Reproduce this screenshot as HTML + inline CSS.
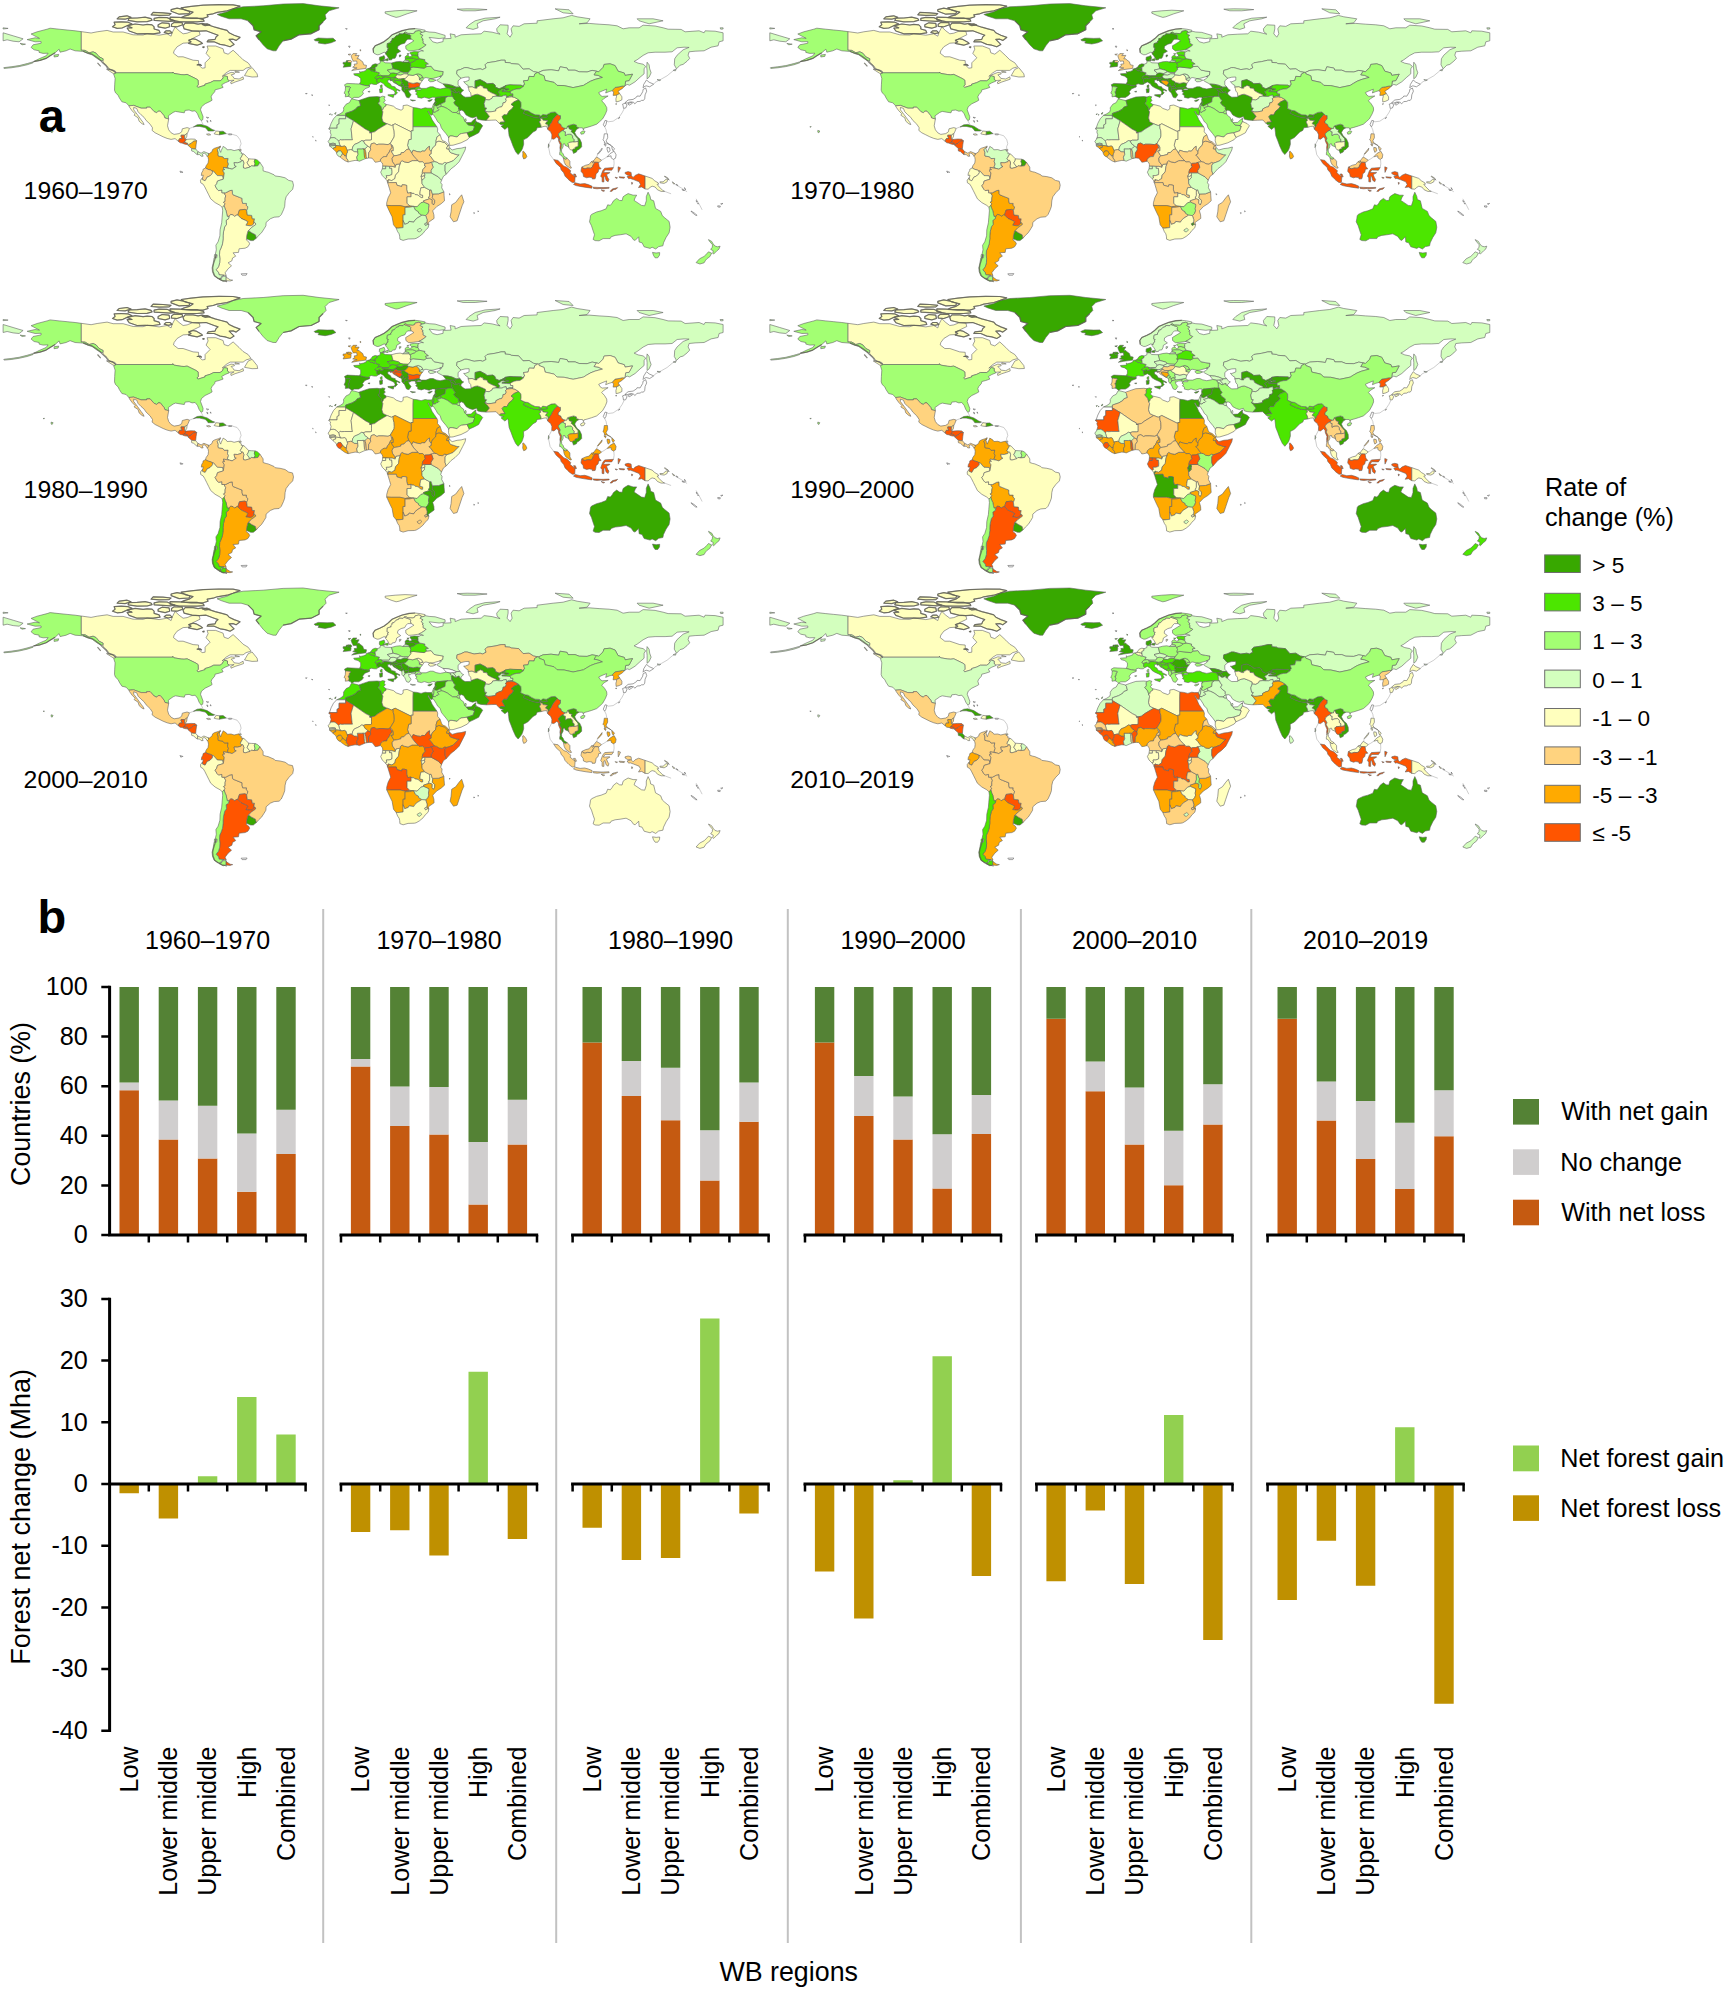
<!DOCTYPE html>
<html><head><meta charset="utf-8"><title>Forest change</title>
<style>
html,body{margin:0;padding:0;background:#fff}
svg{display:block}
text{font-family:"Liberation Sans",Arial,sans-serif;fill:#000}
.m use{stroke:#626262;stroke-width:.6;stroke-linejoin:round}
.m use.arc{fill:none;stroke:#9c9c9c;stroke-width:.5}
.m use.dk{fill:none;stroke:#5c5c50;stroke-width:1.2;stroke-opacity:.75}
</style></head><body>
<svg width="1725" height="1991" viewBox="0 0 1725 1991">
<defs>
<path id="CAN" d="M78,-139.2 88,-137.8 94,-139 104,-140.4 110,-138.8 120,-138.8 130,-136 140,-135.8 144,-137.2 156,-135.6 164,-137 168,-134.6 169,-138 172,-143.8 176,-140 180,-137 184,-137.6 189,-139.6 196,-139.6 197,-136 190,-132.6 186,-130.6 186,-128 180,-127.6 174,-124 171,-120 170.4,-117.6 175,-114 180,-114 190,-110.6 195.4,-110.2 195.6,-105.8 199,-102.6 202,-103 202,-108 207,-113 203,-117.4 205,-121.6 204,-124.8 212.6,-124.8 220,-122 221,-118 225,-116.6 230,-120.6 236,-115 240,-111 245,-108 248,-104 243,-102.6 240,-100.4 227,-100.4 223,-98 219,-94.4 222,-96 228,-98.4 231,-98 231.4,-96.8 228,-96 230,-94 231,-92.4 236,-91.8 240,-94 240.4,-91.6 237,-90.4 232,-88.8 228,-87 227.6,-88.8 231,-90.6 228,-90.4 226,-90.2 224.4,-91.4 224.4,-94.2 221.6,-94.9 220,-93.4 219.4,-91.8 217,-90 210.6,-90 207,-88.2 201.8,-86.6 202,-85.6 195,-83.4 193.8,-84.4 195.2,-86 195,-90.6 193,-92 191,-93 184,-96.4 181,-96 178,-96.2 170.8,-97.4 169.7,-98.8 169.7,-98 113.4,-98 112,-100 106,-102 104,-105 100,-108.6 99.8,-110 100,-112 96,-114 93,-117.6 90,-119 86,-118 82,-120.4 78,-120.6ZM109.4,-144 114,-142.4 119,-142.8 125,-145.6 129,-146.8 125,-148.6 118,-149 111,-148.6 112,-146ZM124,-142.8 126,-139.8 134,-137 142,-137.2 150,-137 157,-138 156,-140.4 151,-141.8 151,-144 149,-146 144,-146.4 140,-145.8 132,-146.8 124,-145 129,-143ZM155,-144 162,-142.6 166.6,-144 166,-147.4 159,-148 155,-146ZM168.4,-144.4 174,-144 179.6,-146 179,-148.2 171,-148.4 168.4,-146.6ZM161,-138.4 165,-137.2 169,-138 167,-140 163,-140ZM199,-147.4 206,-145.6 212,-143.6 218,-142 224,-140.4 226,-138 231,-135.6 237,-133.4 233,-130.4 230,-131.6 226,-131.4 231,-126.4 227,-124 222,-125.6 217,-126.4 211,-129 204,-129 205,-130.6 212,-131.4 213,-134 215,-135.6 211,-137 203,-140 196,-139.6 189,-140 181,-142 180,-145 182,-147.6 190,-147.6 195,-146.6ZM185.6,-130.6 190,-132 193,-131.4 198,-128.6 199.4,-127.4 194,-125.6 189,-126.6 185.4,-127.4 188,-129ZM167,-151 176,-149.2 184,-149 194,-149 201,-149.6 200.4,-151.2 194,-152.8 182,-153 176,-153.4 167,-153.6ZM151,-150.4 160,-149.8 167,-149.4 172,-150 168,-151.4 164,-153.2 156,-153.4 151,-152.4ZM125,-150.4 134,-149 144,-149.2 149,-150.6 148,-152.2 142,-153.6 134,-152.8 126,-152.6ZM114,-152 122,-151.6 128,-153.4 124,-155 116,-154ZM148,-156 156,-155.4 166,-155.6 168,-157.2 160,-158 150,-158.4ZM168,-159.6 176,-156.6 186,-157.2 187,-159.2 182,-161 174,-162.6 168,-161.2ZM178,-153.2 188,-152.4 200,-152.4 205,-154 204,-156 210,-157 214,-158.4 224,-160 230,-162 237,-164.6 230,-166 216,-166.2 200,-165.6 188,-164.4 178,-163 182,-160.6 190,-158.6 186,-156 181,-154.6ZM199,-146.4 204,-147 207,-145.8 202,-145.2ZM201,-124 199.6,-123.6 200.8,-123.2ZM194,-106 196,-106 198.4,-105.4 197,-106.4ZM241.4,-95.2 245,-101.4 249,-103.2 254,-97 254.6,-94 249,-93.8ZM103.4,-101.6 110,-100.6 113.4,-96.8 110,-97.4ZM232,-99.8 236.4,-98.6 232,-98.4Z"/>
<path id="USA" d="M113.4,-98 110.6,-96.8 112,-92.4 111.6,-86 111.4,-80.6 112.4,-78 115,-75.6 116.2,-73 118.8,-69 123,-68 125.8,-65 130.6,-65.4 138,-62.6 143.6,-62.6 143.6,-63.6 147,-63.6 151,-59.2 153.6,-58 155,-59.6 157.2,-59.6 161,-55 161.8,-52.8 165.6,-51.8 165.2,-55 170,-58.4 172.4,-59.4 177,-58.6 181.2,-58 182,-60.4 186,-60.8 189,-59.6 192,-60 194.4,-57 196,-53 198,-50.2 199.6,-51 200,-54 197.4,-61 198.4,-64 202,-67 207,-69.4 209,-70.6 208,-74 209,-76 211.6,-79 212,-81 216,-82 220,-83.4 218.6,-86 222,-88 226,-89.6 226,-90.2 224.4,-91.4 224.4,-94.2 221.6,-94.9 220,-93.4 219.4,-91.8 217,-90 210.6,-90 207,-88.2 201.8,-86.6 202,-85.6 195,-83.4 193.8,-84.4 195.2,-86 195,-90.6 193,-92 191,-93 184,-96.4 181,-96 178,-96.2 170.8,-97.4 169.7,-98.8 169.7,-98ZM78,-139.2 78,-120.6 82,-120.4 86,-118 90,-119 93,-117.6 96,-114 100,-112 99.8,-110 97,-110.4 93,-113 89,-116 85,-117.2 80,-119.4 72,-120 67,-121.8 63,-120 57,-118.6 56,-121.6 52,-118 47,-115 43,-112.4 37,-110.4 30.4,-109.2 36,-112 43,-115 45,-117.6 40,-117.4 36,-118.4 36,-120 31,-121 28,-123.4 30,-126 38,-127.6 38,-129.2 32,-129 24,-131.2 32,-133 36.4,-132.4 33,-134.2 28,-136.8 34,-139 44,-141.6 47,-142.6 56,-141.6 64,-140.8 72,-140ZM30,-108.8 24,-107.2 16,-105.2 8,-104 1,-103.2 1,-102.4 8,-103 16,-104.2 24,-106 30,-108ZM51,-115.8 55.6,-116.4 55,-114.4 51,-113.8ZM17,-127.4 22.4,-126.6 19,-126ZM40,-44 41.4,-44.2 41,-43.6ZM48,-40.4 50,-39.8 49,-38 48,-38.6Z"/>
<path id="MEX" d="M125.8,-65 130.6,-65.4 138,-62.6 143.6,-62.6 143.6,-63.6 147,-63.6 151,-59.2 153.6,-58 155,-59.6 157.2,-59.6 161,-55 161.8,-52.8 165.6,-51.8 164.4,-45 165.6,-41 168,-38 171,-36.4 176,-37.2 178.6,-39 179.2,-42 184,-43.2 186.4,-42.4 185,-39 184,-37 183.4,-37 181.6,-35.6 178,-35.6 178,-34.4 179.2,-32.2 176.6,-32.2 175.6,-30.6 175.6,-29.2 172,-32.2 168,-31.4 164,-32.4 160,-34 156,-36 152,-38 149,-40.4 149.4,-43 147,-46.6 143,-50.4 141,-53.4 138,-56 135,-59 133.6,-62.4 130.6,-63.4 130.6,-61 134.4,-56 138,-51 140,-48.4 141,-46.2 139,-47 136,-49.6 135,-53 131,-55.6 132,-57 129,-60 126.4,-63.6Z"/>
<path id="GTM" d="M175.6,-29.2 175.6,-30.6 176.6,-32.2 179.2,-32.2 178,-34.4 178,-35.6 181.6,-35.6 181.6,-31.8 183.4,-31.4 181.6,-28.8 179.8,-27.6 177,-28Z"/>
<path id="BLZ" d="M181.6,-35.6 183.4,-37 184,-37 183.6,-34 182.2,-31.8 181.6,-31.8Z"/>
<path id="SLV" d="M179.8,-27.6 181.4,-28.8 183,-28 184.4,-27.8 184.6,-26.4 183,-26.4 180.4,-27Z"/>
<path id="HND" d="M181.6,-28.8 183.4,-31.4 188,-31.8 192,-31.6 193.6,-30 190.4,-29.6 188.4,-27.6 186.4,-26.6 185.2,-25.8 184.6,-26.4 184.4,-27.8 183,-28 181.4,-28.8Z"/>
<path id="NIC" d="M185.2,-25.8 186.4,-26.6 188.4,-27.6 190.4,-29.6 193.6,-30 193,-26 192.6,-22 191,-21.8 188.6,-22.2 187,-23.6 184.6,-25.8Z"/>
<path id="CRI" d="M188.6,-22.2 191,-21.8 192.6,-21.8 194.8,-19.2 194.2,-16.2 193,-17 190.6,-19.2 188.6,-19.8 188.4,-21.8Z"/>
<path id="PAN" d="M194.2,-16.2 194.8,-19.2 198,-17.6 200.8,-19.2 205.2,-17.4 205.6,-15.8 204.2,-14.4 203.2,-16.2 201,-17.8 199.2,-16.6 200,-14.6 198,-14.6 196.6,-16.2Z"/>
<path id="CUB" d="M190.2,-43.8 194,-46 198,-46.4 204,-44.6 209,-41.4 211.6,-40.4 210,-39.8 205,-39.8 204,-41.4 202,-43.2 196.4,-44.4 193,-44.4Z"/>
<path id="HTI" d="M211,-37 213.2,-39.8 216.6,-39.4 216.4,-36 213,-36.4Z"/>
<path id="DOM" d="M216.6,-39.4 220,-39.6 223.2,-37.2 220,-36.6 216.4,-36Z"/>
<path id="JAM" d="M203.4,-36.6 206,-37 207.6,-36 205,-35.6Z"/>
<path id="PRI" d="M225.6,-37 228.8,-36.8 228.4,-36 225.6,-36Z"/>
<path id="TTO" d="M236.6,-21.4 238,-21.4 238,-20.2 236.4,-20.2Z"/>
<path id="BHS" d="M203.2,-53.6 205.6,-53.2 204.4,-52.6ZM203.6,-50.2 204.6,-48.4 204.6,-50ZM207.4,-50.6 208,-49.2 207.2,-49.6Z"/>
<path id="COL" d="M205.2,-17.4 206.2,-17.2 208.8,-19 209.6,-21.4 211.6,-22.6 215.4,-23.8 217.4,-24.8 217.2,-23.6 215,-22.2 214.2,-21 215.2,-18.2 215,-16.6 215.2,-14.8 219.8,-14 221.2,-12.2 225,-12.4 224.4,-9 225.4,-6.8 224.2,-3.6 226.2,-2.4 225.8,-2.4 220.4,-3.4 220.4,-2.2 221.8,-1.2 220,-1.2 220,0.4 221.2,2.2 220.2,8.4 219.4,5 214.2,4.8 210.4,0.4 209.2,0.2 207.4,-0.8 205,-1.4 202.4,-2.8 203,-5 205,-7.8 205.4,-11 205,-13.4 204.2,-14.4 205.6,-15.8Z"/>
<path id="VEN" d="M217.2,-23.6 216.2,-22.4 216.8,-20 217.6,-18.4 218.2,-20.4 219.6,-23.2 220,-24.4 223.2,-22.4 224,-21 228,-21.2 231,-20.2 236,-21.4 236.2,-20 238.4,-18.6 238,-17.2 240,-17 237.2,-12 238.6,-10.4 238,-9 234.4,-8 231,-8.2 231.6,-5 233.2,-4.4 229,-1.6 226.2,-2.4 224.2,-3.6 225.4,-6.8 224.4,-9 225,-12.4 221.2,-12.2 219.8,-14 215.2,-14.8 215,-16.6 215.2,-18.2 214.2,-21 215,-22.2Z"/>
<path id="GUY" d="M240,-17 241.8,-16 243,-14.6 245.6,-12 245.4,-10.4 244,-8 244.6,-7 247,-3.8 242.2,-2.4 240.4,-2.8 240.2,-5 240.8,-7.8 239.8,-10.4 238.6,-10.4 237.2,-12Z"/>
<path id="SUR" d="M245.6,-12 248.2,-11.8 252,-11.6 251.2,-9.4 252,-7 251,-4.6 248.2,-5 247,-3.8 244.6,-7 244,-8 245.4,-10.4Z"/>
<path id="GUF" d="M252,-11.6 254.2,-10.8 256.8,-8.4 254.8,-5 251,-4.6 252,-7 251.2,-9.4Z"/>
<path id="ECU" d="M202.4,-2.8 205,-1.4 207.4,-0.8 209.2,0.2 209.6,1.8 208.8,3.2 206.8,5.2 204,6.4 203.2,8 202,10 199.2,8.8 199.6,6.8 200.2,4.4 198.2,4.6 198.6,2 199.8,0 200,-1.6Z"/>
<path id="PER" d="M199.4,6.8 199.2,8.8 202,10 203.2,8 204,6.4 206.8,5.2 208.8,3.2 209.6,1.8 209.2,0.2 210.4,0.4 214.2,4.8 219.4,5 220.2,8.4 214.4,10.2 213.6,13 212,15 214,18.4 215.4,19.8 218.8,19.2 218.8,22 220.8,22 222.6,25 222,27.4 222,30.6 220.4,31.4 222,33 221,34.8 219.2,36.6 217,34.6 212,31.8 207.6,28 205.6,24 203.6,20 201.6,16 200,13.4 197.6,12 197.4,9.4Z"/>
<path id="BOL" d="M220.8,22 222.6,25 222,27.4 222,30.6 220.4,31.4 222,33 221,34.8 222,38 223,40 223.6,43 224.2,45.6 226,45.6 227.6,43.6 230,44.2 231.4,45.6 234,44 234.8,44.4 235.4,42 236.4,39.2 241.8,38.6 243.6,39.6 244.4,38 244.8,36 243.2,34.6 243.4,32.6 239.6,32.6 239,30.2 239,27.6 236,26.4 233,25.2 230,24 229.4,23 229.2,19.4 226.8,19.8 222.6,22Z"/>
<path id="PRY" d="M234.8,44.4 235.4,42 236.4,39.2 241.8,38.6 243.6,39.6 244.2,44.2 248.6,44.6 249.2,48 251.4,48 250.8,51.2 250.6,53.2 248.6,54.8 247,55 242.8,54.4 244.8,51 242.4,49.6 238,47.6Z"/>
<path id="URY" d="M244.8,60.4 246.2,60.2 248.2,61.8 252.4,64 253.2,67.4 250.2,69.8 247.6,69.8 243.4,68 243.6,65Z"/>
<path id="ARG" d="M226,45.6 227.6,43.6 230,44.2 231.4,45.6 234,44 234.8,44.4 238,47.6 242.4,49.6 244.8,51 242.8,54.4 247,55 248.6,54.8 250.6,53.2 250.8,51.2 252.4,52.4 252.6,53.8 248.4,56.8 244.8,60.4 243.6,65 243.4,68 243.2,69.2 245.6,71 246.6,73 244.8,76 242,77.4 236,78 235.4,81.6 230,82 232.6,85.4 229.4,87.2 228.8,90 225,92 228.4,95 225,98 222,102 223.2,104.8 221,104.4 216,104 215.4,101.6 213,99 215.4,96 216.6,92 216.8,88 216.4,84 216.6,80 218,77 219.4,73 220,68 220,65 220.4,61 221.6,56 223.4,53.6 223,49.6 225.4,48ZM222.8,105.4 223.4,106.6 227,109 229.6,109.4 227,110.2 222.8,109.8Z"/>
<path id="CHL" d="M219.2,36.6 219.6,40 219,47 218.6,52 217,59 216.8,65 215,71 212.8,74.4 213.2,79 212.2,83.6 214,84 213.6,87 211,87 210,93 209,97 209.4,101 211,105 215,107.6 218,107.6 218.2,105.8 221,104.4 216,104 215.4,101.6 213,99 215.4,96 216.6,92 216.8,88 216.4,84 216.6,80 218,77 219.4,73 220,68 220,65 220.4,61 221.6,56 223.4,53.6 223,49.6 225.4,48 226,45.6 224.2,45.6 223.6,43 223,40 222,38 221,34.8ZM222.8,105.4 219.4,105.6 218.4,107.6 216,108.4 220,110.6 222.8,109.8ZM211.4,83.8 213,84 212.8,86.6 211.2,86.4Z"/>
<path id="BRA" d="M256.8,-8.4 260,-3.6 260,0 263,1 265,1.4 271,4 272,5.2 277,5.8 282,7 285.6,9.6 289.4,10.4 290.4,14.4 289.6,18.4 286,22 283,26 282,30 281.6,35.6 280.4,39 278.2,43.8 276,46 271,46.4 267.2,48 263,51.6 262.8,55 261,58 258.4,62 255.6,64.6 253.2,67.4 252.4,64 248.2,61.8 246.2,60.2 244.8,60.4 248.4,56.8 252.6,53.8 252.4,52.4 250.8,51.2 251.4,48 249.2,48 248.6,44.6 244.2,44.2 243.6,39.6 244.4,38 244.8,36 243.2,34.6 243.4,32.6 239.6,32.6 239,30.2 239,27.6 236,26.4 233,25.2 230,24 229.4,23 229.2,19.4 226.8,19.8 222.6,22 220.8,22 218.8,22 218.8,19.2 215.4,19.8 214,18.4 212,15 213.6,13 214.4,10.2 220.2,8.4 221.2,2.2 220,0.4 220,-1.2 221.8,-1.2 220.4,-2.2 220.4,-3.4 225.8,-2.4 226.2,-2.4 229,-1.6 233.2,-4.4 231.6,-5 231,-8.2 234.4,-8 238,-9 238.6,-10.4 239.8,-10.4 240.8,-7.8 240.2,-5 240.4,-2.8 242.2,-2.4 247,-3.8 248.2,-5 251,-4.6 254.8,-5Z"/>
<path id="FLK" d="M238,103 244,102.8 243,104.4 239,104.4Z"/>
<path id="GRL" d="M214,-156.4 224,-159 230,-162 240,-164 260,-165 280,-166.8 300,-167.2 316,-165 336,-163 326,-160 322,-156 323,-152 320,-149 316,-145 316,-141 308,-137 296,-136 288,-131.6 280,-130 276,-125 273,-120 270,-120 264,-122 260,-126 256,-131 253,-135 258,-139 251,-141 250,-145 245,-150 238,-152 226,-152 218,-154.6Z"/>
<path id="ISL" d="M311,-131 315,-132.8 324,-132.4 330,-132.6 332.8,-130 328,-128 322,-126.8 315,-127.8 316,-129.6 312,-130Z"/>
<path id="NOR" d="M371,-117.4 370.6,-118 370,-122 372,-125 377,-127 381,-129 385,-132 389,-136 394,-138 399,-140 406,-141.6 412,-142.2 417,-141.6 422,-140.6 421.8,-139.6 421.6,-139 417.9,-138.1 418,-139.4 415.8,-140.2 412,-139.4 411.6,-138 409.8,-137.2 407,-137.4 404.8,-137.4 402.6,-138.6 401.1,-138.1 400,-136.8 396,-137 395.8,-136 393,-135 391,-132.6 389,-132.2 389,-130.6 387.4,-129.2 388.2,-128.4 384.2,-127.2 384,-123.4 385.6,-122.8 384.6,-122 385,-120.4 383.6,-119.6 383.4,-117.8 382.2,-118.2 381,-118.6 379,-117.6 376,-116.2 374,-116ZM382,-159 392,-160 402,-160.6 414,-160 404,-157 396,-154 393,-153.4 388,-155 382,-157.6Z"/>
<path id="SWE" d="M382.2,-118.2 382.4,-116.8 384,-115 385.6,-112.4 386,-110.8 388.6,-111 389.4,-112.4 392,-112.6 393.2,-115 393.6,-117.2 397.6,-119.6 394.4,-122 394.8,-124.6 398,-126.6 401.6,-127.6 403,-130 404.6,-131.6 408.2,-131.6 407.4,-133.6 407.8,-135 407,-136 403.6,-137 401.1,-138.1 400,-136.8 396,-137 395.8,-136 393,-135 391,-132.6 389,-132.2 389,-130.6 387.4,-129.2 388.2,-128.4 384.2,-127.2 384,-123.4 385.6,-122.8 384.6,-122 385,-120.4 383.6,-119.6 383.4,-117.8ZM396.2,-115.8 398,-115.8 397.4,-114.4 396.4,-113.8Z"/>
<path id="FIN" d="M408.2,-131.6 410.8,-130 409.2,-129 405,-126.4 402.6,-125 402.8,-122 405.6,-119.8 410,-120.2 415.6,-121 418.6,-122.6 422.4,-125.2 423,-126 420,-127.6 420.2,-129.6 419.2,-131.2 420.2,-131.4 418.2,-133.8 420,-135.4 417,-137 417.9,-138.1 418,-139.4 415.8,-140.2 412,-139.4 411.6,-138 409.8,-137.2 407,-137.4 404.8,-137.4 402.6,-138.6 401.1,-138.1 403.6,-137 407,-136 407.8,-135 407.4,-133.6Z"/>
<path id="DNK" d="M376.2,-111 377.2,-109.8 379.8,-109.6 381.8,-112.8 381,-115.2 379,-114.4 376.4,-113.6ZM382,-111.4 385,-112.2 385,-110 382.4,-110.2ZM379.6,-111 381.6,-111 381.4,-110 380,-110.2Z"/>
<path id="GBR" d="M348.6,-100.2 354,-101.2 362.8,-102.4 363.4,-105.4 360.6,-106 359.6,-109 356.8,-111 356,-112 354,-112 356,-115.4 352,-115.2 353.8,-117.2 350,-117.2 348,-115 348.8,-112.4 350.2,-109.6 353.6,-109.8 354,-107 351,-106.6 351.6,-105 349.6,-103.6 354,-102.8 351,-102ZM347.6,-108.2 349,-109 347.6,-110.4 345.4,-110.2 344,-109 345.4,-108.2ZM345,-116.4 347.6,-116.8 346.4,-115.6ZM357,-121.2 358,-120.4 357.2,-119.8Z"/>
<path id="IRL" d="M340,-103.6 347.6,-104.4 348,-107 347.6,-108.2 345.4,-108.2 344,-109 345.4,-110.2 343.4,-110.2 342.8,-108.6 340,-108.4 340,-106.8 341.4,-106.2 340.4,-104.4Z"/>
<path id="FRA" d="M356.4,-86.8 361.4,-85.4 366.4,-84.8 366.2,-86.2 368.4,-87 371,-86.4 373.4,-86.4 375,-87.6 374,-88.6 373.8,-90.4 374,-91.8 372.2,-92.4 372.2,-93.2 374,-95 375.2,-95.2 376.4,-98 372.8,-99 371.6,-99 369.8,-100 368.4,-100 365,-102.2 363.2,-101.8 363,-100.4 360.4,-99.4 357.6,-98.8 356.4,-99.4 356.8,-97.4 350.6,-97 351.4,-95.6 355,-94.6 357.6,-92.4 357.6,-89.2ZM377.2,-85.2 379,-86 379,-83 377.4,-83.2Z"/>
<path id="ESP" d="M356.4,-86.8 352.4,-87 344,-87.4 341.4,-86 342.4,-83.8 343.6,-84.2 346.8,-83.8 347.6,-83.2 346.2,-82 346,-79.4 345,-79.2 346,-76.4 345.2,-74.4 347.2,-73.6 348.8,-72 351,-73.4 355.6,-73.4 358.6,-75.2 360.4,-77.4 359.4,-79 361.8,-82 366.4,-83.8 366.4,-84.8 361.4,-85.4ZM364.8,-79.2 366.8,-79.6 366.4,-78.6ZM326.2,-56.6 327.6,-57 326.8,-56ZM328.4,-56 329.2,-56.2 329,-55.6ZM331.4,-57.2 333,-58.4 332.2,-56.4Z"/>
<path id="PRT" d="M342.4,-83.8 343.6,-84.2 346.8,-83.8 347.6,-83.2 346.2,-82 346,-79.4 345,-79.2 346,-76.4 345.2,-74.4 342.2,-74 342.4,-76.8 341,-77.6 342.2,-80.4Z"/>
<path id="BEL" d="M365,-102.2 366.8,-102.8 368.6,-102.8 371.8,-102.2 372.2,-101.4 372.4,-100.2 371.6,-99 369.8,-100 368.4,-100Z"/>
<path id="NLD" d="M366.8,-102.8 368,-104 369.4,-106 372,-107 374.4,-106.6 374,-104.6 372,-103.6 372.2,-101.4 371.8,-102.2 368.6,-102.8Z"/>
<path id="DEU" d="M374.4,-106.6 377,-107.6 377.2,-109.8 379.8,-109.6 382,-108 388.4,-107.8 389.2,-105.2 390,-102 384.2,-100.6 387.6,-97.6 386,-95 381,-95 379.2,-95 377.2,-95.6 375.2,-95.2 376.4,-98 372.8,-99 372.4,-100.2 372.2,-101.4 372,-103.6 374,-104.6Z"/>
<path id="CHE" d="M372.2,-92.4 372.2,-93.2 374,-95 375.2,-95.2 377.2,-95.6 379.2,-95 379,-94 380.8,-93.8 380.2,-92.4 378,-91.8 376.8,-92.8 374,-91.8Z"/>
<path id="AUT" d="M379.2,-95 381,-95 386,-95 387.6,-97.6 390,-98 394,-97.2 394.2,-96 393,-95 392.2,-93.6 389,-92.8 387.4,-93 384.8,-93.4 380.8,-93.8 379,-94Z"/>
<path id="ITA" d="M375,-87.6 374,-88.6 373.8,-90.4 374,-91.8 376.8,-92.8 378,-91.8 380.2,-92.4 380.8,-93.8 384.8,-93.4 387.4,-93 387.6,-91.2 384.6,-90.6 384.8,-88.4 387.2,-87 388.4,-84.8 392.2,-83.8 392,-82.8 397,-80.2 396.4,-79.6 394,-81 393.2,-79.4 394.4,-78 392.2,-75.8 391.2,-76.2 392,-78 391.2,-80 389,-81.2 385,-83 382.2,-84.8 380.6,-87 377.6,-88.8ZM384.8,-76 391.2,-76.4 390.2,-73.4 385,-75.2ZM376.4,-81.8 379.4,-82.4 379.2,-78.4 376.8,-78Z"/>
<path id="POL" d="M388.4,-107.8 393,-109 397,-109.4 399.6,-108.8 405.6,-108.8 407,-108 407.8,-105.4 407.2,-104.2 408,-101.6 405.2,-98.2 400,-98.4 397.6,-99 395.4,-100.6 390,-102 389.2,-105.2Z"/>
<path id="CZE" d="M384.2,-100.6 390,-102 395.4,-100.6 397.6,-99 394,-97.2 390,-98 387.6,-97.6Z"/>
<path id="SVK" d="M394,-97.2 397.6,-99 400,-98.4 405.2,-98.2 404.2,-96.8 401,-97 397.6,-95.6 394.2,-96Z"/>
<path id="HUN" d="M392.2,-93.6 393,-95 394.2,-96 397.6,-95.6 401,-97 404.2,-96.8 405.8,-96 402.4,-92.4 400.6,-92.2 397.6,-91.8 395.2,-91.8 393,-93Z"/>
<path id="SVN" d="M387.4,-93 389,-92.8 392.2,-93.6 393,-93 391.2,-92.4 390.6,-91 387.2,-91Z"/>
<path id="HRV" d="M387.2,-91 390.6,-91 391.2,-92.4 393,-93 395.2,-91.8 397.6,-91.8 398.8,-90.4 398,-89.8 394,-90.4 391.6,-90.4 391.6,-89.4 393,-87.8 395.2,-86 397,-84.8 393,-87 390.4,-88.4 389,-90.4 387.2,-90Z"/>
<path id="BIH" d="M391.6,-90.4 394,-90.4 398,-89.8 399.2,-88 398.4,-87 397,-85.2 395.2,-86 393,-87.8 391.6,-89.4Z"/>
<path id="SRB" d="M398,-89.8 398.8,-90.4 397.6,-91.8 400.6,-92.2 402.8,-90.4 405,-89.2 405.4,-88.4 404.8,-86.4 406,-85.4 404.8,-84.6 403,-84.6 401.2,-83.8 400.2,-85.2 400.6,-86 398.4,-87 399.2,-88Z"/>
<path id="MNE" d="M397,-84.8 397,-85.2 398.4,-87 400.6,-86 400.2,-85.2 398.8,-83.8Z"/>
<path id="ALB" d="M398.8,-83.8 400.2,-85.2 401.2,-83.8 402,-81.8 401.4,-80.2 400,-79.4 398.8,-80.8Z"/>
<path id="MKD" d="M401.2,-83.8 403,-84.6 404.8,-84.6 406,-82.6 404,-82.2 402,-81.8Z"/>
<path id="GRC" d="M400,-79.4 401.4,-80.2 402,-81.8 404,-82.2 406,-82.6 409,-83 412.6,-83.4 412,-81.6 408,-81.4 407,-80.4 405.4,-80.8 406,-78.6 408,-76 406,-73 405,-73 403.4,-73.6 402.4,-75.8 401.6,-77.8ZM407.2,-71 412.4,-70.4 409.4,-69.8Z"/>
<path id="BGR" d="M405.4,-88.4 410,-87.4 414,-88.2 417.2,-87.4 416,-84 412.6,-83.4 409,-83 406,-82.6 404.8,-84.6 406,-85.4 404.8,-86.4Z"/>
<path id="ROU" d="M400.6,-92.2 402.4,-92.4 405.8,-96 409.8,-95.4 413.2,-96.6 416.2,-93.8 416.4,-91 419.4,-90.4 417.2,-87.4 414,-88.2 410,-87.4 405.4,-88.4 405,-89.2 402.8,-90.4Z"/>
<path id="MDA" d="M413.2,-96.6 415.2,-97 418.2,-95.8 420.2,-92.8 417.8,-92.8 416.4,-91 416.2,-93.8Z"/>
<path id="UKR" d="M404.2,-96.8 405.2,-98.2 408,-101.6 407.2,-103 410,-103.8 421,-102.6 423.6,-104.2 428,-104.6 431,-100.8 436,-99.8 440.2,-99.2 439.6,-95.6 436.4,-94.2 430,-92.4 427.2,-92.2 433,-90.6 430,-89.2 427,-89 425,-90.8 427.2,-92.2 423,-93.2 421.4,-93 419.4,-90.4 416.4,-91 417.8,-92.8 420.2,-92.8 418.2,-95.8 415.2,-97 413.2,-96.6 409.8,-95.4 405.8,-96Z"/>
<path id="BLR" d="M407.2,-103 407.2,-104.2 407.8,-105.4 407,-108 411.6,-109.8 413.2,-111.4 416.4,-112.2 421.8,-111.2 421.6,-109.6 425.4,-106.8 422.6,-106.2 423.6,-104.2 421,-102.6 410,-103.8Z"/>
<path id="LTU" d="M402,-110.6 402.2,-112.2 404,-112.8 409.8,-112.8 413.2,-111.4 411.6,-109.8 407,-108 405.6,-108.8 405.6,-110Z"/>
<path id="LVA" d="M402.2,-112.2 402,-114 403.4,-115.2 405.2,-115.4 406.6,-114 408.8,-114.6 408.6,-115.8 411.2,-116 414.8,-115 415.6,-113.6 416.4,-112.2 413.2,-111.4 409.8,-112.8 404,-112.8Z"/>
<path id="EST" d="M408.6,-115.8 407,-117.4 407,-118.4 411,-119.2 416,-119 414.8,-117.8 415,-115.6 414.8,-115 411.2,-116ZM403.8,-117 406,-117.2 405,-116Z"/>
<path id="RUS" d="M421.8,-139.6 426,-138.8 432,-138.4 442,-135.4 442,-133 436,-132.2 426,-133.4 429.6,-129 434,-127.8 440,-129.2 440,-132 448,-132.4 447,-137 452,-136 452,-133.6 458,-136 468,-136.6 478,-137 481,-139.6 489,-138.6 497,-136.6 494,-139 493.6,-142 497,-146 505,-145.6 505,-142 504,-137 507,-133.6 509,-137 508,-142 510,-145 516,-144.4 521,-147 534,-147.6 534,-150 550,-152 560,-153 568.6,-155.4 574,-154 587,-152 584,-148 576,-147 586,-147.4 596,-146.6 606,-146 614,-145 620,-142 626,-143 636,-143 640,-145.6 652,-144.8 660,-143 665,-141.6 678,-141.4 682,-139 696,-140 701,-138 702,-140 712,-139.6 720,-138 720,-130 716,-129 715,-125 708,-123.6 701,-120 692,-119.6 686,-119 685,-115.6 686.6,-112.4 684,-109.6 680,-106.4 677,-105.6 673.4,-102 671.2,-106 671.6,-112 674,-115.6 680,-121 686,-123.4 681,-123.6 674,-123 669,-119 662,-118.6 652,-118.6 645,-118 640,-115.4 634,-111 631,-109.4 635,-107.6 640,-106.6 642.6,-104.4 641,-102 641,-97 637,-93.6 632,-89 626.4,-85.6 624,-86.4 621.4,-84.6 622,-86 622.6,-89.8 626,-90.2 629.4,-96.6 622,-95.4 621.2,-97.8 615,-99.6 612,-105.2 607,-107 601,-106.4 600,-103.4 595.6,-99 593.4,-99.6 589,-100.4 584,-98.8 576,-99 572,-100.6 565,-100.6 564,-102.8 557,-104 555.6,-100 548,-101 540,-100.4 535.6,-98.4 534.6,-98.4 530.4,-99.2 526,-102 520,-101.6 515.6,-106.6 508,-107.2 507,-108 502,-108.4 502,-110.6 498,-110.6 492,-109.2 484,-108 482,-106 483,-103 479.6,-101.2 477,-102 471,-101.2 464,-103.2 461.6,-103.2 457.2,-101.2 454,-100.4 453.6,-97 457,-93.2 458,-92.6 455,-90 455,-86 457,-83.8 453,-83.6 449,-85.4 445,-86.4 440,-86.8 435,-89.4 433.6,-90.6 436,-92 438.4,-94.2 436.4,-94.2 439.6,-95.6 440.2,-99.2 436,-99.8 431,-100.8 428,-104.6 423.6,-104.2 422.6,-106.2 425.4,-106.8 421.6,-109.6 421.8,-111.2 416.4,-112.2 415.6,-113.6 414.8,-115 415,-115.6 414.8,-117.8 416,-119 418,-120 420.4,-119.8 417.6,-120.8 415.6,-121 418.6,-122.6 422.4,-125.2 423,-126 420,-127.6 420.2,-129.6 419.2,-131.2 420.2,-131.4 418.2,-133.8 420,-135.4 417,-137 417.9,-138.1 421.6,-139ZM0,-138 10,-135 20,-132 16,-129 10,-129.6 4,-131 0,-130ZM463,-143 466,-146 472,-150 482,-152.6 497,-153.6 492,-152 480,-150 474,-147 475,-143 470,-141.4ZM644,-108.6 646,-106 646.6,-102 648,-98 646,-93.6 644,-92 644,-96 644,-100 643.6,-104ZM552,-162 560,-158 570,-157 566,-161ZM634,-152 650,-152 660,-150 646,-147 636,-150ZM399.6,-108.8 402,-110.6 405.6,-110 405.6,-108.8ZM717,-143 720,-143 720,-141.8 717.6,-141.6ZM0,-143 5,-142.4 0,-141.8ZM454,-161.6 464,-162 476,-161.8 484,-161.2 472,-160 460,-160ZM670,-100.4 673,-101.6 672.4,-100ZM654,-91.2 657.6,-90.8 656,-90Z"/>
<path id="GEO" d="M440,-86.8 445,-86.4 449,-85.4 453,-83.6 452.6,-82.4 450,-82.4 447,-82.2 443,-83Z"/>
<path id="ARM" d="M447,-82.2 450,-82.4 453,-79 452,-77.8 449.6,-79.4 447.4,-80.4Z"/>
<path id="AZE" d="M450,-82.4 452.6,-82.4 453,-83.6 457,-83.8 459,-81.2 460.6,-80.6 458,-78.4 457.8,-76.8 456,-77.6 456,-79.2 453,-77.8 452,-77.8 453,-79Z"/>
<path id="TUR" d="M412,-81.6 412.6,-83.4 416,-84 418,-82.4 423,-82.4 427,-84 430,-84 433,-82.6 437,-81.8 443,-83 447,-82.2 447.4,-80.4 449.6,-79.4 448.6,-78 448.6,-75.8 449.6,-74.4 444.8,-74.4 442,-74.2 436,-73.6 433.4,-73.4 432.4,-71.8 432,-73.6 429.4,-73.6 426,-72.2 421.2,-73.6 418.4,-72.6 414.6,-73.4 414.6,-75.4 412.6,-76.6 414,-78.4 412.2,-79.2 413.4,-80.8 417.8,-80.8 418.4,-81.8 415,-82 412.4,-80.2Z"/>
<path id="CYP" d="M424.6,-70 426,-70.6 429.2,-71.4 428,-70 426,-69.2Z"/>
<path id="SYR" d="M432.4,-71.8 433.4,-73.4 436,-73.6 442,-74.2 444.8,-74.4 442.4,-72.8 442,-68.8 437.6,-66.8 433.6,-64.6 431.4,-65.4 431.8,-66.8 433.2,-68.4 432,-69.2 431.8,-71.8Z"/>
<path id="LBN" d="M430.2,-66.2 431.4,-66.6 431.8,-66.8 433.2,-68.4 432,-69.2Z"/>
<path id="ISR" d="M428.6,-62.4 429.8,-59 430.8,-62 431,-64.8 431.4,-65.4 431.4,-66.6 430.2,-66.2 429.4,-64Z"/>
<path id="JOR" d="M429.8,-59 430.8,-62 431,-64.8 431.4,-65.4 433.6,-64.6 437.6,-66.8 438.4,-64.4 434,-63 436,-61 435,-60 433.4,-59.8 432.2,-58.4 429.8,-58.8Z"/>
<path id="IRQ" d="M437.6,-66.8 442,-68.8 442.4,-72.8 444.8,-74.4 449.6,-74.4 450.8,-72 452.4,-70.2 450.8,-68 452.2,-66 455.6,-63.6 455.4,-61.8 457,-60 455.8,-60 455.4,-60.2 453.2,-58.2 449.4,-58.4 444.2,-62.2 440.8,-63.8 438.4,-64.4Z"/>
<path id="KWT" d="M453.2,-58.2 455.4,-60.2 456.4,-59.2 456.8,-57 455,-57Z"/>
<path id="IRN" d="M448,-78.8 449.6,-79.4 452,-77.8 453,-77.8 456,-79.2 456,-77.6 457.8,-76.8 460,-74.8 462,-73.6 468,-73.8 468,-74.6 472,-76.2 474.4,-76.6 478.6,-75 482.4,-73.2 482.4,-71.2 481,-67.4 481.8,-63 483.6,-62.8 481.8,-59.8 483.6,-58 486.4,-54.4 483.2,-50.4 478,-50.8 474.6,-51.6 473.6,-54.2 469.6,-53 466.8,-53.8 463,-55.8 460.4,-59.8 458,-60.8 457,-60 455.4,-61.8 455.6,-63.6 452.2,-66 450.8,-68 452.4,-70.2 450.8,-72 449.6,-74.4 448.6,-75.8 448.6,-78Z"/>
<path id="SAU" d="M429.8,-58.8 432.2,-58.4 433.4,-59.8 435,-60 436,-61 434,-63 438.4,-64.4 440.8,-63.8 444.2,-62.2 449.4,-58.4 453.2,-58.2 455,-57 456.8,-57 457.6,-55.4 460.4,-53.4 461.6,-49.6 462.6,-49.2 463.2,-48.2 465.2,-45.8 470.2,-45.2 471.4,-44 470,-40 464,-38 458.2,-37.2 456.4,-36.4 454,-33.8 449,-34.8 446.6,-34.8 445.6,-32.8 445.2,-34 443,-37 440,-40.6 438.2,-43 437,-47 434.6,-49 433,-52 430.4,-56 429.2,-56.2Z"/>
<path id="YEM" d="M445.6,-32.8 446.6,-34.8 449,-34.8 454,-33.8 456.4,-36.4 458.2,-37.2 464,-38 466.2,-33.4 464.4,-31.2 458,-28 450,-25.6 447,-25.4 446.4,-26.6 445.4,-30Z"/>
<path id="OMN" d="M466.2,-33.4 464,-38 470,-40 471.4,-44 470.4,-45.4 472,-48.2 472.8,-49.8 473.2,-49 477.4,-47.2 479.6,-45 477,-40.8 475.6,-38 471,-35.6ZM472.2,-52 473,-52.6 472.6,-51.2Z"/>
<path id="ARE" d="M463.2,-48.2 465.2,-45.8 470.2,-45.2 471.4,-44 470.4,-45.4 472,-48.2 472.8,-49.8 472.2,-52 470.6,-51 468,-48.4Z"/>
<path id="QAT" d="M461.6,-49.6 461.6,-51.2 462.6,-52.2 463.2,-50.4 462.6,-49.2Z"/>
<path id="KAZ" d="M458,-92.6 462,-93.6 466,-93.8 466,-90.6 462,-89 460.6,-89.2 463,-86.4 465,-85.4 465,-83.6 469,-84 472,-82.6 472,-90 477,-91.2 482,-88.6 484,-87 489.8,-87.4 492,-85.8 492.2,-83.8 496,-82 498,-82.8 501,-84.2 502,-85.2 507,-86 510,-85.8 518,-85.6 520.4,-84.4 520.6,-86 521.6,-86.4 520.4,-90 525,-90.4 526,-94.4 531,-94.2 531.6,-96.8 534.6,-98.4 530.4,-99.2 526,-102 520,-101.6 515.6,-106.6 508,-107.2 507,-108 502,-108.4 502,-110.6 498,-110.6 492,-109.2 484,-108 482,-106 483,-103 479.6,-101.2 477,-102 471,-101.2 464,-103.2 461.6,-103.2 457.2,-101.2 454,-100.4 453.6,-97 457,-93.2Z"/>
<path id="UZB" d="M472,-90 477,-91.2 482,-88.6 484,-87 489.8,-87.4 492,-85.8 492.2,-83.8 496,-82 498,-82.8 501,-84.2 502.6,-84.4 500.4,-83 503,-82.6 506,-81.6 503,-80.4 500.8,-81.8 498.6,-81.6 497,-80.2 494.8,-79 496.8,-76.4 495.6,-74.4 493,-74.6 493.2,-76 488.4,-78 484.8,-80 483.8,-82.4 480.2,-82.8 480,-84.4 477.2,-85.4 475.6,-84.4 473.8,-83.8 474,-82.6 472,-82.6Z"/>
<path id="TKM" d="M465,-83.6 469,-84 472,-82.6 474,-82.6 473.8,-83.8 475.6,-84.4 477.2,-85.4 480,-84.4 480.2,-82.8 483.8,-82.4 484.8,-80 488.4,-78 493.2,-76 493,-74.6 489.6,-74.2 489,-72.6 486,-70.8 482.4,-71.2 482.4,-73.2 478.6,-75 474.4,-76.6 472,-76.2 468,-74.6 467.6,-78 466,-79.8 465.6,-82Z"/>
<path id="KGZ" d="M502,-85.2 507,-86 510,-85.8 518,-85.6 520.4,-84.4 516.8,-82 513.6,-81.8 511,-81.2 507.6,-79.6 507.2,-78.8 503.4,-79 498.8,-79.2 499,-80.2 501.2,-80.4 503,-80.4 506,-81.6 503,-82.6 500.4,-83 502.6,-84.4 501,-84.2Z"/>
<path id="TJK" d="M495.6,-74.4 496.8,-76.4 494.8,-79 497,-80.2 498.6,-81.6 500.8,-81.8 501.2,-80.4 499,-80.2 498.8,-79.2 503.4,-79 507.2,-78.8 507.6,-77 509.8,-77 509.8,-74.6 506.4,-74.8 503.4,-73.4 503,-75.8 500.4,-75.2 498.8,-74.4Z"/>
<path id="AFG" d="M482.4,-71.2 486,-70.8 489,-72.6 489.6,-74.2 493,-74.6 495.6,-74.4 498.8,-74.4 500.4,-75.2 503,-75.8 503.4,-73.4 506.4,-74.8 509.8,-74.6 509,-74 504,-73.4 502.4,-72 503.2,-70.4 502,-68.2 500,-68 499.8,-66.2 498.6,-64 496.4,-63.6 492.8,-61.8 492.6,-59.8 488,-59 485,-58.8 481.8,-59.8 483.6,-62.8 481.8,-63 481,-67.4Z"/>
<path id="PAK" d="M483.2,-50.4 486.4,-54.4 483.6,-58 481.8,-59.8 485,-58.8 488,-59 492.6,-59.8 492.8,-61.8 496.4,-63.6 498.6,-64 499.8,-66.2 500,-68 502,-68.2 503.2,-70.4 502.4,-72 504,-73.4 509,-74 511.6,-73.4 515.6,-71 511,-69 508,-66.4 510.6,-64.6 509,-62 506,-59.8 503.8,-55.8 500.8,-56 499,-54 500.4,-51.4 502,-48.8 497.4,-48.6 496.4,-47.4 494,-49.6 493,-50.8 488,-50.6Z"/>
<path id="IND" d="M496.4,-47.4 497.4,-48.6 502,-48.8 500.4,-51.4 499,-54 500.8,-56 503.8,-55.8 506,-59.8 509,-62 510.6,-64.6 508,-66.4 511,-69 515.6,-71 517.8,-68.6 518,-65 517.6,-62.4 522,-60.4 520.2,-57.6 526.6,-54.8 531.6,-53.2 536.2,-52.8 536.2,-55.8 537.8,-54.6 537.8,-53.6 539.6,-53.4 544.2,-53.8 543.2,-55.8 548,-58.4 552,-58.8 554.6,-56.6 552.4,-54.4 550.4,-52 549.2,-50 548.2,-47.8 546.8,-46.2 546.4,-44.4 545.2,-43.8 544.6,-46 542.4,-47 542.8,-48.2 544.8,-50 539.8,-50.6 539.6,-51.8 536.8,-52.6 537.8,-50.4 536.2,-49 537.6,-46.4 538.2,-43.6 534,-43 533,-40.4 530,-38.8 524.6,-33.2 520.4,-31 520.6,-26.6 519.6,-23 518.6,-20.6 516.4,-17.8 515,-16.2 512.6,-19 510,-24.6 508,-30 506,-35 505.6,-38.4 505.2,-42 504.6,-43.8 501.8,-41.4 498,-44.6 500.6,-46 497.4,-46.4ZM545.4,-27 546,-25 545.2,-23.2Z"/>
<path id="NPL" d="M520.2,-57.6 522,-60.4 525,-60 528.4,-57.8 532,-56 536.2,-55.8 536.2,-52.8 531.6,-53.2 526.6,-54.8Z"/>
<path id="BTN" d="M537.8,-54.6 539.6,-56.4 543.2,-55.8 544.2,-53.8 539.6,-53.4 537.8,-53.6Z"/>
<path id="BGD" d="M538.2,-43.6 537.6,-46.4 536.2,-49 537.8,-50.4 536.8,-52.6 539.6,-51.8 539.8,-50.6 544.8,-50 542.8,-48.2 542.4,-47 544.6,-46 545.2,-43.8 544.6,-41.6 543.6,-44.6 541,-44.4Z"/>
<path id="LKA" d="M519.6,-19.2 520.4,-19.6 522.6,-17 523.8,-14.4 522.6,-12.6 520.6,-11.8 519.6,-14.4 519.8,-17Z"/>
<path id="MMR" d="M544.6,-41.6 545.2,-43.8 546.4,-44.4 546.8,-46.2 548.2,-47.8 549.2,-50 550.4,-52 552.4,-54.4 554.6,-56.6 556,-55.2 557.4,-55.2 557.4,-52 555.2,-49.6 555.2,-47.8 557.8,-46.4 558.4,-44.4 560.4,-43 562.4,-42.4 560.2,-40.6 558,-39.4 555.6,-37.2 555.4,-35.8 557.2,-32.6 556.4,-30.4 558.4,-27 558.2,-23.2 557.4,-20.8 557.2,-20 556.8,-23 557.2,-26 555.6,-29.6 555.2,-32.6 553.6,-33.8 550.8,-31.6 548.6,-32 548.8,-36 547.4,-39.2 545.8,-40.2Z"/>
<path id="THA" d="M557.2,-20 557.4,-20.8 558.2,-23.2 558.4,-27 556.4,-30.4 557.2,-32.6 555.4,-35.8 555.6,-37.2 558,-39.4 560.2,-40.6 561,-39.2 562.4,-39 562.2,-35.2 564.2,-36.4 566.2,-36.6 568,-36.6 569.6,-34.8 569.6,-32.6 571.2,-31.4 571,-28.8 569.6,-28.8 566.2,-28.4 565,-27.2 565.8,-23.4 564.4,-24.4 562,-25.4 561.8,-27 560,-26.8 560,-24 558.4,-21 558.6,-18.6 560,-17 561,-14.4 563.6,-13 564.2,-12.4 562.2,-11.4 560.2,-13 559.4,-13.8 558,-15.8 556.6,-16 556.6,-18Z"/>
<path id="LAO" d="M560.2,-40.6 562.4,-42.4 563.6,-42.4 564.4,-44.8 565.8,-43.4 566.4,-41.8 569.2,-41 568.2,-39.2 570.4,-37.4 573.2,-34 575,-32 575.2,-30.2 575,-29.4 572,-28.8 571,-28.8 571.2,-31.4 569.6,-32.6 569.6,-34.8 568,-36.6 566.2,-36.6 564.2,-36.4 562.2,-35.2 562.4,-39 561,-39.2Z"/>
<path id="VNM" d="M564.4,-44.8 566.8,-45.6 570.6,-46.6 573.4,-45.6 573.4,-44 576,-43 573.4,-41.4 571.6,-38.4 573,-35.6 574.4,-33.8 576.6,-32 578.4,-28 578.6,-24 576,-21.4 574,-20.6 573.4,-18.8 570.4,-17.4 569.6,-19.8 569,-20.8 570.2,-21.8 572,-22 571.8,-23.4 575,-24.6 575,-29.4 575.2,-30.2 575,-32 573.2,-34 570.4,-37.4 568.2,-39.2 569.2,-41 566.4,-41.8 565.8,-43.4Z"/>
<path id="KHM" d="M565.8,-23.4 565,-27.2 566.2,-28.4 569.6,-28.8 571,-28.8 572,-28.8 575,-29.4 575,-24.6 571.8,-23.4 572,-22 570.2,-21.8 569,-20.8 567.2,-21 566.2,-22.4Z"/>
<path id="MYS" d="M560.2,-13 562.2,-11.4 564.2,-12.4 566.8,-9.6 566.8,-5.6 568.4,-2.8 567,-2.6 562.6,-5.8 561.2,-8.4 560.6,-11ZM579.2,-4 582.6,-5.6 586,-6.4 588,-9 588.4,-9.2 589.6,-8.2 590.6,-8.8 590.4,-10 591.2,-11 593.4,-13.8 595.2,-12.8 598.4,-10.6 596.4,-8.6 595.2,-8.4 591.6,-8.6 591.2,-7.6 590,-5.8 589.4,-3.8 587.4,-2.6 584.4,-2.8 582,-2 580,-2.4Z"/>
<path id="BRN" d="M588.4,-9.2 590.4,-10 590.6,-8.8 589.6,-8.2Z"/>
<path id="IDN" d="M550.6,-11.2 555,-10.4 556.6,-8.6 558,-7.2 560.8,-4.6 563.6,-3.6 566,-1.6 567.6,0 567,2 569,3.6 572,6 571.8,9 571.6,11.6 569.2,11.8 566,9.4 564.6,8 562,5.4 560.6,2 558,-1 557.4,-3.4 555,-5.6 553,-7.4ZM570.4,13.6 572.2,12 577,13.2 581.6,12.8 585.2,13.8 589,15.4 588.8,17.4 583,16.6 577,15.6 573,14.8ZM590,16.4 594,16.6 598,16.8 600,16.8 606,16.6 606,17.4 600,18 598,17.6 594,18 590.4,17.6ZM598,19 601.6,20 600,20.6ZM607,20.6 608.6,18.8 610,18 610,19 609,20.4ZM579.2,-4 580,-2.4 582,-2 584.4,-2.8 587.4,-2.6 589.4,-3.8 590,-5.8 591.2,-7.6 591.6,-8.6 595.2,-8.4 595.6,-7 596,-4.4 598,-2 595.6,-1.6 595,1.4 593,3 592.6,6 592,8 589.2,8.2 589,6.8 586,6.4 583.6,7 580.4,5.8 580,3 578,0.6 578,-0.6 578.6,-3.6ZM599,11 599,7 597.6,5.4 599.6,0 601.6,-2.6 610.4,-3.2 608.6,-0.6 602,-0.8 600.2,1.8 602.4,1.8 606.6,1.6 606.8,2 603.4,3.8 604.6,6.8 605.8,8.6 605,11 603,9.6 602,6 601.8,5.4 600.8,5.8 600.8,11.2ZM615,-4 617.4,-3 616,0 615.2,1.6 615,-2ZM612,6.4 614.4,7 613,7.6ZM616,6 621.6,6.4 621,7.4 616.6,7ZM622,1.6 625,0.8 628,1.6 628.4,5 630,6.6 632,4.6 635.6,3 642,5.2 642,18.2 638.6,16.2 635.4,16.8 637.4,13.6 636,11 630.4,8.8 627,7.6 625.6,8 624,5.8 627.6,4.6 624.6,4.4 622,2.8ZM570.4,3.2 572.2,3.2 573.4,6 572,6ZM628.4,11.6 629.6,12 628.8,13.6Z"/>
<path id="TLS" d="M610,18 614.6,16.8 613,18.4 610,19Z"/>
<path id="PNG" d="M642,5.2 649,7.6 651.6,10 655,12 655.6,13.4 654,13.6 656,16 659.6,19.6 661.6,20.6 658,20.6 654.4,19 652,16.2 649,15.4 647,16.6 645,18.4 642,18.2ZM656.8,11 660,11 663,8.4 664.6,8.6 664,11 661,12.6 657,12ZM661.6,5.2 665,7.4 666,9.4 664.6,7.8 661.4,5.8ZM669.2,11 671.8,13 670.4,13.2Z"/>
<path id="SLB" d="M673,13.4 675,14.6 674,14.8ZM679,18.6 681.6,19.6 679.6,19.6ZM681.4,16.8 682.6,19 681.8,18Z"/>
<path id="VUT" d="M693.2,29.6 694.4,31 693.4,31.2ZM694.6,32 695.6,33 694.6,33Z"/>
<path id="NCL" d="M688,40.2 691,42 694,44.6 692.4,44.4 688.4,41.2Z"/>
<path id="FJI" d="M714.6,35 717.2,35.2 717,36.4 714.8,36.2ZM717.6,33 719.8,32.6 718.6,33.6Z"/>
<path id="PHL" d="M600.6,-32.4 601.2,-37 604.4,-37 604.6,-33 603,-30 604,-28 608.2,-25.2 606.4,-26.2 603.6,-27.6 601.4,-27.6 601.2,-29.6 599.8,-31ZM604,-14 607,-17.2 611,-19.6 613,-16 612.4,-12.6 611,-12 610.6,-11.2 608,-13 608,-15ZM608.6,-25 611.4,-22 610,-20 609,-22ZM604,-23.4 606.4,-23 607,-20 605,-18.4 604,-21.4ZM594.4,-16.8 599,-22.6 598.6,-20.6 595,-16.6ZM601,-26.8 603,-26.4 602.4,-24.6 601.6,-25.4Z"/>
<path id="TWN" d="M600.2,-46 602,-50.4 603.8,-50 602.8,-46 601.6,-44Z"/>
<path id="JPN" d="M621.8,-68 625,-70.8 630,-71.4 633.4,-73.6 634,-74.8 637,-74.6 639.6,-79 640,-81.4 642.6,-82.8 643.6,-79.6 642,-76 641.6,-72 640.4,-70.4 638.4,-70.4 637,-69.4 634,-69.2 633.6,-68.6 631.6,-67 630.4,-68.6 627,-68.8 624,-67.8ZM640,-83 640.6,-86.4 643.4,-90.8 646,-88.6 650.6,-86.6 646.6,-84 643,-85 641,-84ZM619.4,-66.6 622,-67.6 624,-66 622.6,-62.8 620.4,-62.4 620,-65ZM624.8,-67 628.4,-68.6 629.4,-67.6 626,-65.6ZM615.4,-52.2 616.6,-53.6 616,-52.4Z"/>
<path id="PRK" d="M608.8,-80 612,-83.4 616,-84 619.4,-84.8 621.4,-84.6 619.4,-82.4 615,-79.6 616.6,-77.2 613.4,-75.6 610,-75.4 610.6,-79Z"/>
<path id="KOR" d="M613.4,-75.6 616.6,-77.2 618.8,-74 618.8,-71 616,-69.6 613,-68.8 612.8,-72 613.4,-74ZM612.4,-66.8 613.8,-67 613,-66.4Z"/>
<path id="MNG" d="M535.6,-98.4 540,-100.4 548,-101 555.6,-100 557,-104 564,-102.8 565,-100.6 572,-100.6 576,-99 584,-98.8 589,-100.4 593.4,-99.6 591,-96 595,-95.4 599.4,-93.4 592,-91.4 587.4,-89.6 583.6,-87.4 580.4,-85.4 570,-83.2 561,-85.2 554,-85.4 551,-88.4 542,-90.4 541,-95 536,-97Z"/>
<path id="CHN" d="M520.4,-84.4 520.6,-86 521.6,-86.4 520.4,-90 525,-90.4 526,-94.4 531,-94.2 531.6,-96.8 534.6,-98.4 535.6,-98.4 536,-97 541,-95 542,-90.4 551,-88.4 554,-85.4 561,-85.2 570,-83.2 580.4,-85.4 583.6,-87.4 587.4,-89.6 592,-91.4 599.4,-93.4 595,-95.4 591,-96 593.4,-99.6 595.6,-99 600,-103.4 601,-106.4 607,-107 612,-105.2 615,-99.6 621.2,-97.8 622,-95.4 629.4,-96.6 626,-90.2 622.6,-89.8 622,-86 621.4,-84.6 619.4,-84.8 616,-84 612,-83.4 608.8,-80 606,-79.2 602.6,-77.8 603.6,-81.6 599,-79.8 595.6,-78.2 597,-75.8 599,-74.4 605,-74.8 601,-72.4 598.6,-70 601.4,-67 603.6,-63.4 603.8,-60.6 602.4,-57 599.6,-52 596.6,-49.2 593.6,-46.6 588.6,-44.8 584,-43.4 580.8,-42.6 580.4,-40.8 579.4,-43 576,-43 573.4,-44 573.4,-45.6 570.6,-46.6 566.8,-45.6 564.4,-44.8 563.6,-42.4 562.4,-42.4 560.4,-43 558.4,-44.4 557.8,-46.4 555.2,-47.8 555.2,-49.6 557.4,-52 557.4,-55.2 556,-55.2 554.6,-56.6 552,-58.8 548,-58.4 543.2,-55.8 539.6,-56.4 537.8,-54.6 536.2,-55.8 532,-56 528.4,-57.8 525,-60 522,-60.4 517.6,-62.4 518,-65 517.8,-68.6 515.6,-71 511.6,-73.4 509,-74 509.8,-74.6 509.8,-77 507.6,-77 507.2,-78.8 507.6,-79.6 511,-81.2 513.6,-81.8 516.8,-82ZM577.4,-38.4 580,-40 582,-39.4 580.6,-37 578,-36.6Z"/>
<path id="AUS" d="M587.4,45 588.4,43.6 593.4,41.2 598,40 603,38 604.6,34 607.2,34.6 609,32.4 610.4,30 613.6,27.6 616.4,29.6 619,29.8 620,26 621.6,24.8 625,22.8 630,24.4 633.6,24.4 632,27 631,29.6 634,31.6 638.4,34.6 641.6,35 643.2,30 643.2,25.8 645,21.4 647,25.6 647.6,28.8 650.6,30 652.4,37.6 657.6,40.6 659.2,44.8 661.6,47 666,50.6 667,56.4 666,62 663,66.6 660.4,72 659.8,75 655.6,75.8 652.6,78.2 649,76.4 647,77.6 641,76 639,72 636,71.2 635.6,66 632,69.6 630.4,69 628,65.6 623,63 617,64 612,64.6 608,66 607,67.8 600,67.8 596,70 592,69.8 590,68.6 591.4,64 590,60 588.4,55 586.4,51 587,48ZM649.4,81.6 653,82.2 656.6,81.8 656.4,84.4 654.6,87 652,87 650.4,84.6Z"/>
<path id="NZL" d="M705.4,68.8 708.6,70.6 710,73 711.8,75.2 714.4,76 717,75.4 715.8,78.4 713.8,80 710.6,83.2 709.6,82.6 710.2,80 707.6,78.6 709.2,76.4 709.4,74 706,70ZM705.4,81 708.6,82.4 706.6,86 704,87.8 702.4,89.6 701,92 696.8,93.2 693,91.8 696.4,88 701,85.6 703.6,83Z"/>
<path id="MAR" d="M348.2,-71.6 349.4,-71.8 354.2,-70.6 355.6,-70.2 356.6,-69 357.6,-65 354,-63.6 352.8,-61.8 349,-59.6 342.6,-57.4 342.6,-55.4 333.6,-55.4 337,-57 340,-59 340.6,-61.2 340.4,-63 343,-66.6 346.4,-68.2Z"/>
<path id="ESH" d="M333.6,-55.4 342.6,-55.4 342.6,-52 336,-52 336,-47 334,-46 334,-42.6 326,-42.6 326,-41.6 328,-47.4 330.4,-52Z"/>
<path id="DZA" d="M355.6,-70.2 360,-71.8 366,-73.8 374,-74.2 377.2,-73.8 376.4,-72.4 376.6,-69.4 375,-67.6 378,-64.2 379,-60.6 379.8,-59 378.8,-52.8 380,-49 384,-47 375,-41.6 371.6,-39 366.6,-38 366.4,-39.6 362.4,-41.6 350.4,-50 342.6,-54.6 342.6,-55.4 342.6,-57.4 349,-59.6 352.8,-61.8 354,-63.6 357.6,-65 356.6,-69Z"/>
<path id="TUN" d="M377.2,-73.8 379.6,-74.6 382,-74 381,-72 382.2,-70.4 380.4,-68.4 383,-66.4 383,-65 380.6,-63.4 380,-61.6 379,-60.6 378,-64.2 375,-67.6 376.6,-69.4 376.4,-72.4Z"/>
<path id="LBY" d="M383,-66.4 386,-65.8 390.4,-64.6 393,-62.4 398,-60.6 400,-62 400,-65.2 404,-65.8 410.2,-63.2 410,-58.4 410,-44 410,-40 408,-40 408,-39 392,-47 390,-46 388.4,-45.2 384,-47 380,-49 378.8,-52.8 379.8,-59 379,-60.6 380,-61.6 380.6,-63.4 383,-65Z"/>
<path id="EGY" d="M410.2,-63.2 414,-62.8 418,-61.8 422,-63 424.6,-62.6 428.4,-62.6 429.8,-59 429,-56 428.6,-55.6 427,-56.6 425.2,-59.8 424.8,-59.2 427,-55.6 429,-51 431,-48 431.2,-47.8 433.8,-44 410,-44 410,-58.4Z"/>
<path id="SDN" d="M410,-44 433.8,-44 434.6,-42 434.4,-39 437,-36 434,-34 433,-30.4 433,-28.6 432.4,-25.4 430.2,-23.6 428.6,-21.2 428.2,-19 426.2,-21.4 426.4,-24.4 424.6,-23.4 421.6,-19.6 419,-19.8 417.6,-18.8 414,-19.2 410,-20.6 408.6,-17.6 407.4,-19.8 405.8,-21.8 404.4,-25.4 405,-28.4 405.8,-31.2 408,-31.4 408,-39 408,-40 410,-40Z"/>
<path id="SSD" d="M408.6,-17.6 410,-20.6 414,-19.2 417.6,-18.8 419,-19.8 421.6,-19.6 424.6,-23.4 426.4,-24.4 426.2,-21.4 428.2,-19 428.2,-17 426,-15.8 428,-13.8 430,-11 431.8,-9.2 428,-8.4 426,-7.6 422,-7.4 421.6,-7 419.4,-9 416,-8.8 414.8,-10.2 413,-12 410.6,-14.6Z"/>
<path id="MRT" d="M326,-41.6 326,-42.6 334,-42.6 334,-46 336,-47 336,-52 342.6,-52 342.6,-54.6 350.4,-50 348,-42 349,-32.6 349.4,-31 341.4,-31 338.6,-30.8 337,-31.2 335.6,-29.6 333,-32.2 331,-33.2 327.4,-33 327,-32 328,-36 327,-38.8 327.6,-40.4Z"/>
<path id="MLI" d="M350.4,-50 362.4,-41.6 366.4,-39.6 366.6,-38 368.4,-38.2 368.4,-33.8 368.4,-31 367,-30.6 362.6,-30.6 360.4,-29.8 358.6,-30.2 356,-28.4 354,-27.4 351.4,-26.4 349.6,-23.8 349,-20.8 347.6,-21.2 344.2,-20.4 343.4,-22 342.6,-24.2 341.4,-24.8 339.4,-24.4 337.2,-24.4 337.2,-25 336.4,-26.6 335.6,-29.6 337,-31.2 338.6,-30.8 341.4,-31 349.4,-31 349,-32.6 348,-42Z"/>
<path id="SEN" d="M327,-32 327.4,-33 331,-33.2 333,-32.2 335.6,-29.6 336.4,-26.6 337.2,-25 337.2,-24.8 332.6,-25.4 326.6,-24.8 326.4,-26.2 330,-26.6 332.4,-26.4 332.4,-27 330,-27.6 326.4,-27 325,-29.4Z"/>
<path id="GMB" d="M326.4,-27 330,-27.6 332.4,-27 332.4,-26.4 330,-26.6 326.4,-26.2Z"/>
<path id="GNB" d="M326.6,-24.8 332.6,-25.4 332.6,-23.4 330.6,-23 330,-21.8 329,-23 327.6,-24Z"/>
<path id="GIN" d="M330,-21.8 330.6,-23 332.6,-23.4 332.6,-25.4 337.2,-24.8 337.2,-24.4 339.4,-24.4 341.4,-24.8 342.6,-24.2 343.4,-22 344.2,-20.4 344.6,-18.8 343.6,-17 343.4,-15.2 341.8,-14.6 341.2,-15.8 339.4,-17 338.6,-18.6 337.6,-20 335,-19.8 334.6,-18.6 333.4,-18.1 332.6,-19.4 331,-21Z"/>
<path id="SLE" d="M333.4,-18.1 334.6,-18.6 335,-19.8 337.6,-20 338.6,-18.6 339.4,-17 338.6,-15.6 337,-13.8 335,-14.8 333.6,-16.8Z"/>
<path id="LBR" d="M337,-13.8 338.6,-15.6 339.4,-17 341.2,-15.8 341.8,-14.6 343.4,-15.2 343.2,-12.8 345,-10.6 345,-8.8 342,-10 338.4,-12.6Z"/>
<path id="CIV" d="M345,-8.8 345,-10.6 343.2,-12.8 343.4,-15.2 343.6,-17 344.6,-18.8 344.2,-20.4 347.6,-21.2 349,-20.8 351.4,-19.2 354.6,-19 355,-16.4 353.6,-13.6 354.4,-10.2 352,-10.4 348,-9.6Z"/>
<path id="GHA" d="M354.4,-10.2 353.6,-13.6 355,-16.4 354.6,-19 354.2,-22 358.8,-22 360,-22.2 361,-20.6 361.2,-16.6 361.4,-13.6 362.4,-12.2 360,-11.2 356.4,-9.6Z"/>
<path id="TGO" d="M362.4,-12.2 361.4,-13.6 361.2,-16.6 361,-20.6 360,-22.2 361.8,-22 362.8,-18.6 363.2,-14 363.6,-12.4Z"/>
<path id="BEN" d="M363.6,-12.4 363.2,-14 362.8,-18.6 361.8,-22 362.8,-22.8 364.6,-24.6 367.2,-23.4 367.6,-21 365.6,-18 365.4,-12.8Z"/>
<path id="BFA" d="M349,-20.8 349.6,-23.8 351.4,-26.4 354,-27.4 356,-28.4 358.6,-30.2 360.4,-29.8 362,-26.8 364.2,-25.4 364.6,-24.6 362.8,-22.8 361.8,-22 360,-22.2 358.8,-22 354.2,-22 354.6,-19 351.4,-19.2Z"/>
<path id="NER" d="M360.4,-29.8 362.6,-30.6 367,-30.6 368.4,-31 368.4,-33.8 368.4,-38.2 366.6,-38 371.6,-39 375,-41.6 384,-47 388.4,-45.2 390,-46 390.2,-42.6 391,-40 391.2,-36 391,-33.8 387.2,-27.4 385,-26.2 380,-26.6 375.6,-26.6 373.8,-26 371,-27.8 368.2,-27 367.2,-23.4 364.6,-24.6 364.2,-25.4 362,-26.8Z"/>
<path id="NGA" d="M365.4,-12.8 365.6,-18 367.6,-21 367.2,-23.4 368.2,-27 371,-27.8 373.8,-26 375.6,-26.6 380,-26.6 385,-26.2 387.2,-27.4 388.4,-24.8 389.2,-23 387.6,-22 385.6,-17.6 384.4,-16.8 383.6,-14.2 381.2,-14.2 379.6,-13.6 377.6,-11.6 377.2,-9.6 374,-8.8 372,-8.6 370.8,-10.4 369,-12.6 366.8,-12.8Z"/>
<path id="CMR" d="M377.2,-9.6 377.6,-11.6 379.6,-13.6 381.2,-14.2 383.6,-14.2 384.4,-16.8 385.6,-17.6 387.6,-22 389.2,-23 388.4,-24.8 389,-25.8 390.2,-23.4 390.2,-20 388,-19.8 391,-15 390.4,-14.6 389,-12.4 389.4,-9.2 391.8,-6 392.2,-4.4 392.2,-3.4 389,-4.4 386.6,-4.4 382.6,-4.6 379.6,-4.6 379.6,-6.2 379.2,-7.8 377.8,-9Z"/>
<path id="GNQ" d="M379.6,-4.6 382.6,-4.6 382.6,-2 379.2,-2Z"/>
<path id="GAB" d="M379.2,-2 382.6,-2 382.6,-4.6 386.6,-4.4 386.4,-2.6 388.6,-2.6 389,1 388.8,3.8 386,4.8 383.2,4.8 383.8,7 382.2,7.8 379.2,4.8 377.6,1.4 378.6,-0.6Z"/>
<path id="COG" d="M382.2,7.8 383.8,7 383.2,4.8 386,4.8 388.8,3.8 389,1 388.6,-2.6 386.4,-2.6 386.6,-4.4 389,-4.4 392.2,-3.4 392.2,-4.4 393,-6.4 397.2,-7 396.2,-4.4 395.6,0 395.4,1 392.4,4.4 391.8,7.8 390.4,8.6 388.8,9.8 386.2,9.2 385.6,8.8 384,10Z"/>
<path id="COD" d="M384.4,11.6 385,10.2 386.2,9.2 388.8,9.8 390.4,8.6 391.8,7.8 392.4,4.4 395.4,1 395.6,0 396.2,-4.4 397.2,-7 397.2,-8.6 399,-10.2 401,-9 405,-8.2 409,-10.2 410.6,-10.2 414.8,-10.2 416,-8.8 419.4,-9 421.6,-7 421.6,-4.8 422.6,-4.4 419.8,-1.2 419.2,1.2 419.2,2.8 418,5.4 418.4,7 418.8,9 419,13 421.6,16.6 417.8,17 417.4,18.8 417,21 416.8,23.8 419.6,24.4 419.6,26.8 418,26.8 415.2,24.6 414,24 412,23.8 410.8,22.6 408.6,22.6 408,21.8 404.6,22.4 403.6,19 403.6,14.6 401,14 399,14 398.6,15.8 393.8,14.4 393.2,11.8 386.4,11.8 384.6,12Z"/>
<path id="AGO" d="M384.6,12 386.4,11.8 393.2,11.8 393.8,14.4 398.6,15.8 399,14 401,14 403.6,14.6 403.6,19 404.6,22.4 408,21.8 408,26 404,26 404,32.4 406.8,35.2 402,36 397,34.8 388,34.8 383.6,34.6 383.6,32 385,27 387.6,22 386.4,18ZM384,10 385.6,8.8 386.2,9.2 385,10.2 384.4,11.6Z"/>
<path id="ZMB" d="M404,32.4 404,26 408,26 408,21.8 408.6,22.6 410.8,22.6 412,23.8 414,24 415.2,24.6 418,26.8 419.6,26.8 419.6,24.4 416.8,23.8 417,21 417.4,18.8 417.8,17 421.6,16.6 425.8,18.8 426.6,19.2 426.6,21.6 426.6,24.8 425.4,27.2 426.4,28 420.4,30 420.8,31.2 417.8,32 414,36 410.6,35.6 406.8,35.2Z"/>
<path id="NAM" d="M383.6,34.6 388,34.8 397,34.8 402,36 406.8,35.2 410.6,35.6 406.6,36.4 402,36.6 402,44 400,44 400,49.6 400,56.8 394.8,57.4 393,57.2 390.4,54 389,46 386.8,41.6Z"/>
<path id="BWA" d="M402,36.6 406.6,36.4 410.6,35.6 412.4,39.2 415.4,41 415.4,42.2 418.8,44.4 414,47.4 411.8,49.4 410.6,51.4 406,50.6 405.2,52.2 401.6,53.6 400,49.6 400,44 402,44Z"/>
<path id="ZWE" d="M410.6,35.6 414,36 417.8,32 420.8,31.2 422.6,32 425.8,33.4 426,34.8 425.4,38 425.8,40 424.8,42.6 422.6,44.8 418.8,44.4 415.4,42.2 415.4,41 412.4,39.2Z"/>
<path id="MWI" d="M426.6,19.2 428,19 429.2,23 429.8,23.2 429.2,27 431.6,29.4 431.6,32 430.4,34.2 428.8,32.4 429,29 426.4,28 425.4,27.2 426.6,24.8 426.6,21.6Z"/>
<path id="MOZ" d="M440.8,21 435.6,23 429.8,23.2 429.2,27 431.6,29.4 431.6,32 430.4,34.2 428.8,32.4 429,29 426.4,28 420.4,30 420.8,31.2 422.6,32 425.8,33.4 426,34.8 425.4,38 425.8,40 424.8,42.6 422.6,44.8 424,49 423.8,51.8 424.2,53.6 425.8,53.8 425.2,51.8 427,50.4 431,47.6 430.8,44 429.6,40 433.6,35.8 438,33 441.4,30 441,25Z"/>
<path id="ZAF" d="M393,57.2 394.8,57.4 400,56.8 400,49.6 401.6,53.6 405.2,52.2 406,50.6 410.6,51.4 411.8,49.4 414,47.4 418.8,44.4 422.6,44.8 424,49 423.8,51.8 421.6,53 422.4,54.6 424.2,53.6 425.8,53.8 425,57 422,59.8 420,62.6 416.4,65.6 413,67.6 411.2,68 405,68.2 400,69.6 396.8,68.4 396.6,65.4 396,63 394.6,61Z"/>
<path id="LSO" d="M414,59.2 417,57.4 418.8,59 416.6,61.2 414.8,60.6Z"/>
<path id="SWZ" d="M421.6,53 423.8,51.8 424.2,53.6 422.4,54.6Z"/>
<path id="MDG" d="M458.6,24 460.8,31 459,35 456,44 454,50 450.4,51 447,46 448,41 448.6,34 452.6,31.6 456,27Z"/>
<path id="TZA" d="M438.4,9.4 435.2,6 428,2 421,2 421.6,3.2 421.6,4.8 420.8,4.8 421.6,6.6 419.8,8.8 418.8,9 419,13 421.6,16.6 425.8,18.8 426.6,19.2 428,19 429.2,23 429.8,23.2 435.6,23 440.8,21 438.6,17 439,13.8 437.6,12Z"/>
<path id="KEN" d="M438.4,9.4 435.2,6 428,2 427.8,-0.2 429,-2.2 430,-3.6 428.8,-7.2 428,-8.4 431.8,-9.2 433.8,-8.8 436,-7.2 439.2,-6.8 441.6,-8.4 443.8,-7.8 442,-5.6 442,0 443.2,3.4 440.4,5.4Z"/>
<path id="UGA" d="M419.2,2.8 421,2 428,2 427.8,-0.2 429,-2.2 430,-3.6 428.8,-7.2 428,-8.4 426,-7.6 422,-7.4 421.6,-7 421.6,-4.8 422.6,-4.4 419.8,-1.2 419.2,1.2Z"/>
<path id="RWA" d="M418,5.4 419.2,2.8 421,2 421.6,3.2 421.6,4.8 419.8,5.6Z"/>
<path id="BDI" d="M418,5.4 419.8,5.6 420.8,4.8 421.6,6.6 419.8,8.8 418.8,9 418.4,7Z"/>
<path id="ETH" d="M433,-28.6 435.8,-29.8 438,-29.2 441.6,-28.2 444.8,-25 443.6,-23 443.6,-22 445.8,-21.8 446.6,-19 448,-18 454,-16 456,-16 450,-10 446,-8.4 443.8,-7.8 441.6,-8.4 439.2,-6.8 436,-7.2 433.8,-8.8 431.8,-9.2 430,-11 428,-13.8 426,-15.8 428.2,-17 428.2,-19 428.6,-21.2 430.2,-23.6 432.4,-25.4Z"/>
<path id="ERI" d="M433,-28.6 433,-30.4 434,-34 437,-36 438.4,-32 439.4,-30.2 442.4,-29 446.2,-25.4 444.8,-25 441.6,-28.2 438,-29.2 435.8,-29.8Z"/>
<path id="DJI" d="M446.2,-25.4 444.8,-25 443.6,-23 443.6,-22 445.8,-21.8 446.6,-23 446,-23.2Z"/>
<path id="SOM" d="M446.6,-23 445.8,-21.8 446.6,-19 448,-18 454,-16 456,-16 450,-10 446,-8.4 443.8,-7.8 442,-5.6 442,0 443.2,3.4 448,-2 452,-5 456,-9 459.6,-16 462,-20.8 462.6,-23.8 458,-22.6 454,-22.2 449,-20.8Z"/>
<path id="TCD" d="M390,-46 392,-47 408,-39 408,-31.4 405.8,-31.2 405,-28.4 404.4,-25.4 405.8,-21.8 403.4,-21.2 400.8,-18.4 398,-18 397.8,-16.4 394,-15.4 391,-15 388,-19.8 390.2,-20 390.2,-23.4 389,-25.8 387.2,-27.4 391,-33.8 391.2,-36 391,-40 390.2,-42.6Z"/>
<path id="CAF" d="M391,-15 394,-15.4 397.8,-16.4 398,-18 400.8,-18.4 403.4,-21.2 405.8,-21.8 407.4,-19.8 408.6,-17.6 410.6,-14.6 413,-12 414.8,-10.2 410.6,-10.2 409,-10.2 405,-8.2 401,-9 399,-10.2 397.2,-8.6 397.2,-7 393,-6.4 392.2,-4.4 391.8,-6 389.4,-9.2 389,-12.4 390.4,-14.6Z"/>
<path id="COM" d="M446.4,22.8 447,23.8 446.4,24Z"/>
<path id="MUS" d="M474.8,40 475.6,40.6 474.8,41Z"/>
<path id="REU" d="M470.6,41.8 471.6,42.2 470.8,42.8Z"/>
<path id="CPV" d="M312.4,-30.6 313.2,-30 312.6,-29.8ZM309.6,-34.2 310.2,-33.8 309.4,-33.8Z"/>
<path id="GAL" d="M176.8,0.4 178.4,0.6 178,2.2ZM179,1 179.8,1.2 179.4,1.8Z"/>
<path id="FRO" d="M345.4,-124.6 347,-124.6 346.4,-123.2ZM342.4,-142.2 344.2,-142 343,-141.6Z"/>
<path id="AZO" d="M302.4,-77.2 304,-77.4 303.4,-76.8ZM308.4,-75.8 309.8,-75.6 309,-75.4ZM325.4,-65.8 326.6,-65.6 326,-65.2Z"/>
<path id="LAKES" d="M176,-93.4 183,-97.6 190.4,-93 186,-92.8 181,-93.6ZM184.4,-83.4 187.4,-83.6 190.2,-91.6 186,-91.4 184,-88ZM191,-91.8 197.4,-92 200,-89.6 196.6,-86.4 193,-87.4 193.4,-90ZM193.2,-83.4 202,-85.6 199.4,-84.8 194.8,-82.8ZM200.4,-86.6 207.4,-88.2 207.4,-87 202,-86.4Z"/>
<path id="ARCS" d="M673.4,-102 670,-100 664,-95 658,-91.6 652,-88.4 650.6,-86.6M621,-62 619,-58 616,-53.6 610,-49.6 605,-49 603.8,-50M601.6,-44 603,-41 603.6,-37.6M594.4,-16.8 594,-14.6 593.4,-13.8M604,-14 601,-12 598,-10.4M610.8,-11.2 611,-7 610.4,-3.2M548.6,-32 546,-27 545.6,-23 547,-16 550.6,-11.2M661.6,20.6 668,23M672,13.6 678,17 684,21M693,28 697,35 699,39M30.4,-109.2 20,-105.6 8,-103.6 0,-103M198,-50.2 200,-46.4M211.6,-40.4 213.2,-39.8M223.2,-37.2 225.6,-36.6M228.8,-36.6 234,-35 237,-31 238,-27 236.8,-24 237,-21.4M186.4,-42.4 190.2,-43.8"/>
<path id="DARKS" d="M113,-98 110,-100 105,-102 103,-105 99,-108.6 97,-111 93,-114 89,-116.6 85,-117.6 80,-119.6M94.4,-108 97.6,-104.4M370.4,-118 370,-122 372,-125 377,-127.2 381,-129.2 385,-132.2 389,-136 394,-138.2 399,-140.2 406,-141.8 412,-142.2M213,84 212,88 210.4,93 209.6,97 210,101 211.6,105 215,107.6 219,109.6 224,110.8M30.4,-109.2 37,-110.4 43,-112.4 47,-115 52,-118M320,-149 316,-145 316,-141 308,-137 296,-136 288,-131.6 280,-130M256,-131 253,-135 258,-139 251,-141 250,-145 245,-150M109.4,-144 114,-142.4 119,-142.8 125,-145.6 129,-146.8 125,-148.6 118,-149 111,-148.6 112,-146ZM124,-142.8 126,-139.8 134,-137 142,-137.2 150,-137 157,-138 156,-140.4 151,-141.8 151,-144 149,-146 144,-146.4 140,-145.8 132,-146.8 124,-145 129,-143ZM155,-144 162,-142.6 166.6,-144 166,-147.4 159,-148 155,-146ZM168.4,-144.4 174,-144 179.6,-146 179,-148.2 171,-148.4 168.4,-146.6ZM161,-138.4 165,-137.2 169,-138 167,-140 163,-140ZM199,-147.4 206,-145.6 212,-143.6 218,-142 224,-140.4 226,-138 231,-135.6 237,-133.4 233,-130.4 230,-131.6 226,-131.4 231,-126.4 227,-124 222,-125.6 217,-126.4 211,-129 204,-129 205,-130.6 212,-131.4 213,-134 215,-135.6 211,-137 203,-140 196,-139.6 189,-140 181,-142 180,-145 182,-147.6 190,-147.6 195,-146.6ZM185.6,-130.6 190,-132 193,-131.4 198,-128.6 199.4,-127.4 194,-125.6 189,-126.6 185.4,-127.4 188,-129ZM167,-151 176,-149.2 184,-149 194,-149 201,-149.6 200.4,-151.2 194,-152.8 182,-153 176,-153.4 167,-153.6ZM151,-150.4 160,-149.8 167,-149.4 172,-150 168,-151.4 164,-153.2 156,-153.4 151,-152.4ZM125,-150.4 134,-149 144,-149.2 149,-150.6 148,-152.2 142,-153.6 134,-152.8 126,-152.6ZM114,-152 122,-151.6 128,-153.4 124,-155 116,-154ZM148,-156 156,-155.4 166,-155.6 168,-157.2 160,-158 150,-158.4ZM168,-159.6 176,-156.6 186,-157.2 187,-159.2 182,-161 174,-162.6 168,-161.2ZM178,-153.2 188,-152.4 200,-152.4 205,-154 204,-156 210,-157 214,-158.4 224,-160 230,-162 237,-164.6 230,-166 216,-166.2 200,-165.6 188,-164.4 178,-163 182,-160.6 190,-158.6 186,-156 181,-154.6ZM199,-146.4 204,-147 207,-145.8 202,-145.2ZM201,-124 199.6,-123.6 200.8,-123.2ZM194,-106 196,-106 198.4,-105.4 197,-106.4Z"/>
</defs>
<g class="m">
<g transform="translate(3.1,170.8)"><use href="#CAN" fill="#FFFFBE"/><use href="#USA" fill="#A3FF73"/><use href="#MEX" fill="#FFFFBE"/><use href="#GTM" fill="#FF5500"/><use href="#BLZ" fill="#FFFFBE"/><use href="#SLV" fill="#FF5500"/><use href="#HND" fill="#FFFFBE"/><use href="#NIC" fill="#FFAA00"/><use href="#CRI" fill="#D3FFBE"/><use href="#PAN" fill="#D3FFBE"/><use href="#CUB" fill="#38A800"/><use href="#HTI" fill="#FFFFBE"/><use href="#DOM" fill="#38A800"/><use href="#JAM" fill="#FFFFBE"/><use href="#PRI" fill="#ffffff"/><use href="#TTO" fill="#FFFFBE"/><use href="#BHS" fill="#ffffff"/><use href="#COL" fill="#FFAA00"/><use href="#VEN" fill="#D3FFBE"/><use href="#GUY" fill="#FFFFBE"/><use href="#SUR" fill="#FFFFBE"/><use href="#GUF" fill="#4CE600"/><use href="#ECU" fill="#FFD37F"/><use href="#PER" fill="#FFFFBE"/><use href="#BOL" fill="#FFD37F"/><use href="#PRY" fill="#FFAA00"/><use href="#URY" fill="#38A800"/><use href="#ARG" fill="#FFFFBE"/><use href="#CHL" fill="#D3FFBE"/><use href="#BRA" fill="#D3FFBE"/><use href="#FLK" fill="#ffffff"/><use href="#GRL" fill="#38A800"/><use href="#ISL" fill="#38A800"/><use href="#NOR" fill="#D3FFBE"/><use href="#SWE" fill="#38A800"/><use href="#FIN" fill="#A3FF73"/><use href="#DNK" fill="#38A800"/><use href="#GBR" fill="#FFD37F"/><use href="#IRL" fill="#38A800"/><use href="#FRA" fill="#4CE600"/><use href="#ESP" fill="#A3FF73"/><use href="#PRT" fill="#A3FF73"/><use href="#BEL" fill="#38A800"/><use href="#NLD" fill="#38A800"/><use href="#DEU" fill="#A3FF73"/><use href="#CHE" fill="#4CE600"/><use href="#AUT" fill="#4CE600"/><use href="#ITA" fill="#4CE600"/><use href="#POL" fill="#38A800"/><use href="#CZE" fill="#A3FF73"/><use href="#SVK" fill="#A3FF73"/><use href="#HUN" fill="#FFFFBE"/><use href="#SVN" fill="#4CE600"/><use href="#HRV" fill="#4CE600"/><use href="#BIH" fill="#4CE600"/><use href="#SRB" fill="#38A800"/><use href="#MNE" fill="#38A800"/><use href="#ALB" fill="#38A800"/><use href="#MKD" fill="#38A800"/><use href="#GRC" fill="#38A800"/><use href="#BGR" fill="#FF5500"/><use href="#ROU" fill="#FFFFBE"/><use href="#MDA" fill="#A3FF73"/><use href="#UKR" fill="#A3FF73"/><use href="#BLR" fill="#4CE600"/><use href="#LTU" fill="#4CE600"/><use href="#LVA" fill="#4CE600"/><use href="#EST" fill="#4CE600"/><use href="#RUS" fill="#D3FFBE"/><use href="#GEO" fill="#38A800"/><use href="#ARM" fill="#38A800"/><use href="#AZE" fill="#38A800"/><use href="#TUR" fill="#4CE600"/><use href="#CYP" fill="#38A800"/><use href="#SYR" fill="#38A800"/><use href="#LBN" fill="#38A800"/><use href="#ISR" fill="#A3FF73"/><use href="#JOR" fill="#A3FF73"/><use href="#IRQ" fill="#A3FF73"/><use href="#KWT" fill="#A3FF73"/><use href="#IRN" fill="#38A800"/><use href="#SAU" fill="#A3FF73"/><use href="#YEM" fill="#FFFFBE"/><use href="#OMN" fill="#38A800"/><use href="#ARE" fill="#38A800"/><use href="#QAT" fill="#A3FF73"/><use href="#KAZ" fill="#D3FFBE"/><use href="#UZB" fill="#38A800"/><use href="#TKM" fill="#FFFFBE"/><use href="#KGZ" fill="#4CE600"/><use href="#TJK" fill="#4CE600"/><use href="#AFG" fill="#D3FFBE"/><use href="#PAK" fill="#FFFFBE"/><use href="#IND" fill="#38A800"/><use href="#NPL" fill="#38A800"/><use href="#BTN" fill="#38A800"/><use href="#BGD" fill="#FFFFBE"/><use href="#LKA" fill="#FFAA00"/><use href="#MMR" fill="#FF5500"/><use href="#THA" fill="#A3FF73"/><use href="#LAO" fill="#D3FFBE"/><use href="#VNM" fill="#38A800"/><use href="#KHM" fill="#FFFFBE"/><use href="#MYS" fill="#FFD37F"/><use href="#BRN" fill="#FFD37F"/><use href="#IDN" fill="#FF5500"/><use href="#TLS" fill="#FF5500"/><use href="#PNG" fill="#FFFFBE"/><use href="#SLB" fill="#ffffff"/><use href="#VUT" fill="#ffffff"/><use href="#NCL" fill="#ffffff"/><use href="#FJI" fill="#ffffff"/><use href="#PHL" fill="#ffffff"/><use href="#TWN" fill="#ffffff"/><use href="#JPN" fill="#ffffff"/><use href="#PRK" fill="#FFAA00"/><use href="#KOR" fill="#FFFFBE"/><use href="#MNG" fill="#D3FFBE"/><use href="#CHN" fill="#A3FF73"/><use href="#AUS" fill="#A3FF73"/><use href="#NZL" fill="#A3FF73"/><use href="#MAR" fill="#A3FF73"/><use href="#ESH" fill="#D3FFBE"/><use href="#DZA" fill="#38A800"/><use href="#TUN" fill="#A3FF73"/><use href="#LBY" fill="#FFFFBE"/><use href="#EGY" fill="#4CE600"/><use href="#SDN" fill="#D3FFBE"/><use href="#SSD" fill="#FFD37F"/><use href="#MRT" fill="#D3FFBE"/><use href="#MLI" fill="#FFFFBE"/><use href="#SEN" fill="#D3FFBE"/><use href="#GMB" fill="#D3FFBE"/><use href="#GNB" fill="#D3FFBE"/><use href="#GIN" fill="#FFAA00"/><use href="#SLE" fill="#D3FFBE"/><use href="#LBR" fill="#FFD37F"/><use href="#CIV" fill="#FFFFBE"/><use href="#GHA" fill="#A3FF73"/><use href="#TGO" fill="#FFAA00"/><use href="#BEN" fill="#FFFFBE"/><use href="#BFA" fill="#D3FFBE"/><use href="#NER" fill="#FFFFBE"/><use href="#NGA" fill="#FFD37F"/><use href="#CMR" fill="#FFD37F"/><use href="#GNQ" fill="#D3FFBE"/><use href="#GAB" fill="#D3FFBE"/><use href="#COG" fill="#FFFFBE"/><use href="#COD" fill="#FFFFBE"/><use href="#AGO" fill="#FFD37F"/><use href="#ZMB" fill="#FFFFBE"/><use href="#NAM" fill="#FFAA00"/><use href="#BWA" fill="#D3FFBE"/><use href="#ZWE" fill="#A3FF73"/><use href="#MWI" fill="#FFD37F"/><use href="#MOZ" fill="#FFD37F"/><use href="#ZAF" fill="#D3FFBE"/><use href="#LSO" fill="#D3FFBE"/><use href="#SWZ" fill="#D3FFBE"/><use href="#MDG" fill="#FFD37F"/><use href="#TZA" fill="#D3FFBE"/><use href="#KEN" fill="#D3FFBE"/><use href="#UGA" fill="#FFD37F"/><use href="#RWA" fill="#FFFFBE"/><use href="#BDI" fill="#FFFFBE"/><use href="#ETH" fill="#FFFFBE"/><use href="#ERI" fill="#FFFFBE"/><use href="#DJI" fill="#FFFFBE"/><use href="#SOM" fill="#D3FFBE"/><use href="#TCD" fill="#FFFFBE"/><use href="#CAF" fill="#FFD37F"/><use href="#COM" fill="#ffffff"/><use href="#MUS" fill="#ffffff"/><use href="#REU" fill="#ffffff"/><use href="#CPV" fill="#ffffff"/><use href="#GAL" fill="#ffffff"/><use href="#FRO" fill="#ffffff"/><use href="#AZO" fill="#ffffff"/><use href="#ARCS" class="arc"/><use href="#DARKS" class="dk"/></g>
<g transform="translate(769.8,170.8)"><use href="#CAN" fill="#FFFFBE"/><use href="#USA" fill="#A3FF73"/><use href="#MEX" fill="#FFFFBE"/><use href="#GTM" fill="#FF5500"/><use href="#BLZ" fill="#FFFFBE"/><use href="#SLV" fill="#FF5500"/><use href="#HND" fill="#FF5500"/><use href="#NIC" fill="#FF5500"/><use href="#CRI" fill="#FF5500"/><use href="#PAN" fill="#FFD37F"/><use href="#CUB" fill="#38A800"/><use href="#HTI" fill="#FFFFBE"/><use href="#DOM" fill="#38A800"/><use href="#JAM" fill="#FFFFBE"/><use href="#PRI" fill="#ffffff"/><use href="#TTO" fill="#FFFFBE"/><use href="#BHS" fill="#ffffff"/><use href="#COL" fill="#FFD37F"/><use href="#VEN" fill="#D3FFBE"/><use href="#GUY" fill="#FFFFBE"/><use href="#SUR" fill="#FFFFBE"/><use href="#GUF" fill="#38A800"/><use href="#ECU" fill="#FFFFBE"/><use href="#PER" fill="#FFFFBE"/><use href="#BOL" fill="#FFAA00"/><use href="#PRY" fill="#FF5500"/><use href="#URY" fill="#38A800"/><use href="#ARG" fill="#FFAA00"/><use href="#CHL" fill="#A3FF73"/><use href="#BRA" fill="#FFD37F"/><use href="#FLK" fill="#ffffff"/><use href="#GRL" fill="#38A800"/><use href="#ISL" fill="#38A800"/><use href="#NOR" fill="#D3FFBE"/><use href="#SWE" fill="#38A800"/><use href="#FIN" fill="#4CE600"/><use href="#DNK" fill="#38A800"/><use href="#GBR" fill="#FFD37F"/><use href="#IRL" fill="#38A800"/><use href="#FRA" fill="#38A800"/><use href="#ESP" fill="#38A800"/><use href="#PRT" fill="#A3FF73"/><use href="#BEL" fill="#38A800"/><use href="#NLD" fill="#38A800"/><use href="#DEU" fill="#D3FFBE"/><use href="#CHE" fill="#38A800"/><use href="#AUT" fill="#38A800"/><use href="#ITA" fill="#38A800"/><use href="#POL" fill="#4CE600"/><use href="#CZE" fill="#D3FFBE"/><use href="#SVK" fill="#D3FFBE"/><use href="#HUN" fill="#D3FFBE"/><use href="#SVN" fill="#38A800"/><use href="#HRV" fill="#38A800"/><use href="#BIH" fill="#FFAA00"/><use href="#SRB" fill="#38A800"/><use href="#MNE" fill="#38A800"/><use href="#ALB" fill="#38A800"/><use href="#MKD" fill="#38A800"/><use href="#GRC" fill="#38A800"/><use href="#BGR" fill="#38A800"/><use href="#ROU" fill="#FFFFBE"/><use href="#MDA" fill="#D3FFBE"/><use href="#UKR" fill="#D3FFBE"/><use href="#BLR" fill="#4CE600"/><use href="#LTU" fill="#4CE600"/><use href="#LVA" fill="#4CE600"/><use href="#EST" fill="#4CE600"/><use href="#RUS" fill="#D3FFBE"/><use href="#GEO" fill="#38A800"/><use href="#ARM" fill="#38A800"/><use href="#AZE" fill="#38A800"/><use href="#TUR" fill="#38A800"/><use href="#CYP" fill="#38A800"/><use href="#SYR" fill="#38A800"/><use href="#LBN" fill="#38A800"/><use href="#ISR" fill="#A3FF73"/><use href="#JOR" fill="#A3FF73"/><use href="#IRQ" fill="#A3FF73"/><use href="#KWT" fill="#A3FF73"/><use href="#IRN" fill="#38A800"/><use href="#SAU" fill="#A3FF73"/><use href="#YEM" fill="#FFFFBE"/><use href="#OMN" fill="#FFFFBE"/><use href="#ARE" fill="#A3FF73"/><use href="#QAT" fill="#A3FF73"/><use href="#KAZ" fill="#D3FFBE"/><use href="#UZB" fill="#38A800"/><use href="#TKM" fill="#FFFFBE"/><use href="#KGZ" fill="#4CE600"/><use href="#TJK" fill="#4CE600"/><use href="#AFG" fill="#D3FFBE"/><use href="#PAK" fill="#FFD37F"/><use href="#IND" fill="#38A800"/><use href="#NPL" fill="#38A800"/><use href="#BTN" fill="#38A800"/><use href="#BGD" fill="#FFFFBE"/><use href="#LKA" fill="#FFAA00"/><use href="#MMR" fill="#FF5500"/><use href="#THA" fill="#A3FF73"/><use href="#LAO" fill="#D3FFBE"/><use href="#VNM" fill="#38A800"/><use href="#KHM" fill="#FFFFBE"/><use href="#MYS" fill="#FFD37F"/><use href="#BRN" fill="#FFD37F"/><use href="#IDN" fill="#FF5500"/><use href="#TLS" fill="#FF5500"/><use href="#PNG" fill="#FFFFBE"/><use href="#SLB" fill="#ffffff"/><use href="#VUT" fill="#ffffff"/><use href="#NCL" fill="#ffffff"/><use href="#FJI" fill="#ffffff"/><use href="#PHL" fill="#FFD37F"/><use href="#TWN" fill="#ffffff"/><use href="#JPN" fill="#ffffff"/><use href="#PRK" fill="#FFAA00"/><use href="#KOR" fill="#FFFFBE"/><use href="#MNG" fill="#D3FFBE"/><use href="#CHN" fill="#A3FF73"/><use href="#AUS" fill="#4CE600"/><use href="#NZL" fill="#D3FFBE"/><use href="#MAR" fill="#A3FF73"/><use href="#ESH" fill="#D3FFBE"/><use href="#DZA" fill="#38A800"/><use href="#TUN" fill="#4CE600"/><use href="#LBY" fill="#FFFFBE"/><use href="#EGY" fill="#4CE600"/><use href="#SDN" fill="#FFFFBE"/><use href="#SSD" fill="#FFD37F"/><use href="#MRT" fill="#D3FFBE"/><use href="#MLI" fill="#FFFFBE"/><use href="#SEN" fill="#D3FFBE"/><use href="#GMB" fill="#D3FFBE"/><use href="#GNB" fill="#FFAA00"/><use href="#GIN" fill="#FFAA00"/><use href="#SLE" fill="#FFAA00"/><use href="#LBR" fill="#FFD37F"/><use href="#CIV" fill="#FFD37F"/><use href="#GHA" fill="#D3FFBE"/><use href="#TGO" fill="#FFD37F"/><use href="#BEN" fill="#D3FFBE"/><use href="#BFA" fill="#D3FFBE"/><use href="#NER" fill="#D3FFBE"/><use href="#NGA" fill="#FF5500"/><use href="#CMR" fill="#FFD37F"/><use href="#GNQ" fill="#D3FFBE"/><use href="#GAB" fill="#D3FFBE"/><use href="#COG" fill="#FFFFBE"/><use href="#COD" fill="#FFD37F"/><use href="#AGO" fill="#FFD37F"/><use href="#ZMB" fill="#FFFFBE"/><use href="#NAM" fill="#FFAA00"/><use href="#BWA" fill="#FFD37F"/><use href="#ZWE" fill="#A3FF73"/><use href="#MWI" fill="#FFFFBE"/><use href="#MOZ" fill="#FFD37F"/><use href="#ZAF" fill="#FFFFBE"/><use href="#LSO" fill="#D3FFBE"/><use href="#SWZ" fill="#38A800"/><use href="#MDG" fill="#FFD37F"/><use href="#TZA" fill="#D3FFBE"/><use href="#KEN" fill="#FFD37F"/><use href="#UGA" fill="#FF5500"/><use href="#RWA" fill="#FFFFBE"/><use href="#BDI" fill="#FFFFBE"/><use href="#ETH" fill="#FFD37F"/><use href="#ERI" fill="#FFD37F"/><use href="#DJI" fill="#FFD37F"/><use href="#SOM" fill="#D3FFBE"/><use href="#TCD" fill="#FFFFBE"/><use href="#CAF" fill="#FFD37F"/><use href="#COM" fill="#ffffff"/><use href="#MUS" fill="#ffffff"/><use href="#REU" fill="#ffffff"/><use href="#CPV" fill="#ffffff"/><use href="#GAL" fill="#ffffff"/><use href="#FRO" fill="#ffffff"/><use href="#AZO" fill="#ffffff"/><use href="#ARCS" class="arc"/><use href="#DARKS" class="dk"/></g>
<g transform="translate(3.1,462.5)"><use href="#CAN" fill="#FFFFBE"/><use href="#USA" fill="#A3FF73"/><use href="#MEX" fill="#FFD37F"/><use href="#GTM" fill="#FF5500"/><use href="#BLZ" fill="#FFFFBE"/><use href="#SLV" fill="#FF5500"/><use href="#HND" fill="#FF5500"/><use href="#NIC" fill="#FF5500"/><use href="#CRI" fill="#FFFFBE"/><use href="#PAN" fill="#FFD37F"/><use href="#CUB" fill="#38A800"/><use href="#HTI" fill="#FFFFBE"/><use href="#DOM" fill="#38A800"/><use href="#JAM" fill="#FFFFBE"/><use href="#PRI" fill="#ffffff"/><use href="#TTO" fill="#FFFFBE"/><use href="#BHS" fill="#ffffff"/><use href="#COL" fill="#FFD37F"/><use href="#VEN" fill="#FFFFBE"/><use href="#GUY" fill="#FFFFBE"/><use href="#SUR" fill="#D3FFBE"/><use href="#GUF" fill="#4CE600"/><use href="#ECU" fill="#FFAA00"/><use href="#PER" fill="#FFFFBE"/><use href="#BOL" fill="#FFD37F"/><use href="#PRY" fill="#FF5500"/><use href="#URY" fill="#38A800"/><use href="#ARG" fill="#FFAA00"/><use href="#CHL" fill="#4CE600"/><use href="#BRA" fill="#FFD37F"/><use href="#FLK" fill="#ffffff"/><use href="#GRL" fill="#A3FF73"/><use href="#ISL" fill="#38A800"/><use href="#NOR" fill="#A3FF73"/><use href="#SWE" fill="#A3FF73"/><use href="#FIN" fill="#FFD37F"/><use href="#DNK" fill="#A3FF73"/><use href="#GBR" fill="#FFAA00"/><use href="#IRL" fill="#FFAA00"/><use href="#FRA" fill="#4CE600"/><use href="#ESP" fill="#38A800"/><use href="#PRT" fill="#38A800"/><use href="#BEL" fill="#4CE600"/><use href="#NLD" fill="#4CE600"/><use href="#DEU" fill="#4CE600"/><use href="#CHE" fill="#4CE600"/><use href="#AUT" fill="#4CE600"/><use href="#ITA" fill="#38A800"/><use href="#POL" fill="#FFFFBE"/><use href="#CZE" fill="#4CE600"/><use href="#SVK" fill="#4CE600"/><use href="#HUN" fill="#38A800"/><use href="#SVN" fill="#38A800"/><use href="#HRV" fill="#FF5500"/><use href="#BIH" fill="#FF5500"/><use href="#SRB" fill="#38A800"/><use href="#MNE" fill="#38A800"/><use href="#ALB" fill="#38A800"/><use href="#MKD" fill="#38A800"/><use href="#GRC" fill="#38A800"/><use href="#BGR" fill="#FF5500"/><use href="#ROU" fill="#FFAA00"/><use href="#MDA" fill="#D3FFBE"/><use href="#UKR" fill="#D3FFBE"/><use href="#BLR" fill="#A3FF73"/><use href="#LTU" fill="#A3FF73"/><use href="#LVA" fill="#A3FF73"/><use href="#EST" fill="#A3FF73"/><use href="#RUS" fill="#D3FFBE"/><use href="#GEO" fill="#38A800"/><use href="#ARM" fill="#38A800"/><use href="#AZE" fill="#38A800"/><use href="#TUR" fill="#38A800"/><use href="#CYP" fill="#38A800"/><use href="#SYR" fill="#38A800"/><use href="#LBN" fill="#38A800"/><use href="#ISR" fill="#4CE600"/><use href="#JOR" fill="#4CE600"/><use href="#IRQ" fill="#4CE600"/><use href="#KWT" fill="#A3FF73"/><use href="#IRN" fill="#38A800"/><use href="#SAU" fill="#A3FF73"/><use href="#YEM" fill="#FFFFBE"/><use href="#OMN" fill="#4CE600"/><use href="#ARE" fill="#4CE600"/><use href="#QAT" fill="#A3FF73"/><use href="#KAZ" fill="#D3FFBE"/><use href="#UZB" fill="#38A800"/><use href="#TKM" fill="#FFFFBE"/><use href="#KGZ" fill="#38A800"/><use href="#TJK" fill="#D3FFBE"/><use href="#AFG" fill="#D3FFBE"/><use href="#PAK" fill="#FFD37F"/><use href="#IND" fill="#4CE600"/><use href="#NPL" fill="#4CE600"/><use href="#BTN" fill="#4CE600"/><use href="#BGD" fill="#FFFFBE"/><use href="#LKA" fill="#FFAA00"/><use href="#MMR" fill="#FF5500"/><use href="#THA" fill="#A3FF73"/><use href="#LAO" fill="#FFFFBE"/><use href="#VNM" fill="#38A800"/><use href="#KHM" fill="#FFAA00"/><use href="#MYS" fill="#FFAA00"/><use href="#BRN" fill="#FFAA00"/><use href="#IDN" fill="#FF5500"/><use href="#TLS" fill="#FF5500"/><use href="#PNG" fill="#FFFFBE"/><use href="#SLB" fill="#ffffff"/><use href="#VUT" fill="#ffffff"/><use href="#NCL" fill="#ffffff"/><use href="#FJI" fill="#ffffff"/><use href="#PHL" fill="#FFAA00"/><use href="#TWN" fill="#ffffff"/><use href="#JPN" fill="#ffffff"/><use href="#PRK" fill="#FFAA00"/><use href="#KOR" fill="#FFFFBE"/><use href="#MNG" fill="#D3FFBE"/><use href="#CHN" fill="#FFFFBE"/><use href="#AUS" fill="#38A800"/><use href="#NZL" fill="#A3FF73"/><use href="#MAR" fill="#A3FF73"/><use href="#ESH" fill="#FFFFBE"/><use href="#DZA" fill="#38A800"/><use href="#TUN" fill="#38A800"/><use href="#LBY" fill="#FFFFBE"/><use href="#EGY" fill="#4CE600"/><use href="#SDN" fill="#FFAA00"/><use href="#SSD" fill="#FFD37F"/><use href="#MRT" fill="#FFFFBE"/><use href="#MLI" fill="#FFFFBE"/><use href="#SEN" fill="#FFFFBE"/><use href="#GMB" fill="#FFFFBE"/><use href="#GNB" fill="#FFFFBE"/><use href="#GIN" fill="#FFFFBE"/><use href="#SLE" fill="#FF5500"/><use href="#LBR" fill="#FFAA00"/><use href="#CIV" fill="#FFD37F"/><use href="#GHA" fill="#FFFFBE"/><use href="#TGO" fill="#FFD37F"/><use href="#BEN" fill="#FFD37F"/><use href="#BFA" fill="#D3FFBE"/><use href="#NER" fill="#FFFFBE"/><use href="#NGA" fill="#FFD37F"/><use href="#CMR" fill="#FFAA00"/><use href="#GNQ" fill="#FFFFBE"/><use href="#GAB" fill="#FFFFBE"/><use href="#COG" fill="#FFFFBE"/><use href="#COD" fill="#FFAA00"/><use href="#AGO" fill="#FFD37F"/><use href="#ZMB" fill="#FFFFBE"/><use href="#NAM" fill="#FFAA00"/><use href="#BWA" fill="#FFD37F"/><use href="#ZWE" fill="#A3FF73"/><use href="#MWI" fill="#38A800"/><use href="#MOZ" fill="#38A800"/><use href="#ZAF" fill="#FFD37F"/><use href="#LSO" fill="#FFD37F"/><use href="#SWZ" fill="#FFD37F"/><use href="#MDG" fill="#FFD37F"/><use href="#TZA" fill="#D3FFBE"/><use href="#KEN" fill="#FFD37F"/><use href="#UGA" fill="#FF5500"/><use href="#RWA" fill="#FFFFBE"/><use href="#BDI" fill="#FFFFBE"/><use href="#ETH" fill="#FFAA00"/><use href="#ERI" fill="#FFAA00"/><use href="#DJI" fill="#FFAA00"/><use href="#SOM" fill="#FFFFBE"/><use href="#TCD" fill="#FFAA00"/><use href="#CAF" fill="#FFD37F"/><use href="#COM" fill="#ffffff"/><use href="#MUS" fill="#ffffff"/><use href="#REU" fill="#ffffff"/><use href="#CPV" fill="#ffffff"/><use href="#GAL" fill="#ffffff"/><use href="#FRO" fill="#ffffff"/><use href="#AZO" fill="#ffffff"/><use href="#ARCS" class="arc"/><use href="#DARKS" class="dk"/></g>
<g transform="translate(769.8,462.5)"><use href="#CAN" fill="#FFFFBE"/><use href="#USA" fill="#A3FF73"/><use href="#MEX" fill="#FFD37F"/><use href="#GTM" fill="#FF5500"/><use href="#BLZ" fill="#FFD37F"/><use href="#SLV" fill="#FF5500"/><use href="#HND" fill="#FF5500"/><use href="#NIC" fill="#FF5500"/><use href="#CRI" fill="#FFD37F"/><use href="#PAN" fill="#FFD37F"/><use href="#CUB" fill="#38A800"/><use href="#HTI" fill="#FFFFBE"/><use href="#DOM" fill="#38A800"/><use href="#JAM" fill="#FFFFBE"/><use href="#PRI" fill="#ffffff"/><use href="#TTO" fill="#FFFFBE"/><use href="#BHS" fill="#ffffff"/><use href="#COL" fill="#FFAA00"/><use href="#VEN" fill="#FFAA00"/><use href="#GUY" fill="#FFFFBE"/><use href="#SUR" fill="#D3FFBE"/><use href="#GUF" fill="#A3FF73"/><use href="#ECU" fill="#FF5500"/><use href="#PER" fill="#FFFFBE"/><use href="#BOL" fill="#FFAA00"/><use href="#PRY" fill="#FF5500"/><use href="#URY" fill="#38A800"/><use href="#ARG" fill="#FF5500"/><use href="#CHL" fill="#A3FF73"/><use href="#BRA" fill="#FFFFBE"/><use href="#FLK" fill="#ffffff"/><use href="#GRL" fill="#38A800"/><use href="#ISL" fill="#38A800"/><use href="#NOR" fill="#D3FFBE"/><use href="#SWE" fill="#D3FFBE"/><use href="#FIN" fill="#A3FF73"/><use href="#DNK" fill="#38A800"/><use href="#GBR" fill="#38A800"/><use href="#IRL" fill="#38A800"/><use href="#FRA" fill="#4CE600"/><use href="#ESP" fill="#38A800"/><use href="#PRT" fill="#FFD37F"/><use href="#BEL" fill="#4CE600"/><use href="#NLD" fill="#4CE600"/><use href="#DEU" fill="#D3FFBE"/><use href="#CHE" fill="#4CE600"/><use href="#AUT" fill="#D3FFBE"/><use href="#ITA" fill="#38A800"/><use href="#POL" fill="#A3FF73"/><use href="#CZE" fill="#D3FFBE"/><use href="#SVK" fill="#D3FFBE"/><use href="#HUN" fill="#FFD37F"/><use href="#SVN" fill="#D3FFBE"/><use href="#HRV" fill="#FFD37F"/><use href="#BIH" fill="#FFAA00"/><use href="#SRB" fill="#A3FF73"/><use href="#MNE" fill="#A3FF73"/><use href="#ALB" fill="#A3FF73"/><use href="#MKD" fill="#A3FF73"/><use href="#GRC" fill="#A3FF73"/><use href="#BGR" fill="#D3FFBE"/><use href="#ROU" fill="#FFFFBE"/><use href="#MDA" fill="#A3FF73"/><use href="#UKR" fill="#A3FF73"/><use href="#BLR" fill="#4CE600"/><use href="#LTU" fill="#A3FF73"/><use href="#LVA" fill="#A3FF73"/><use href="#EST" fill="#A3FF73"/><use href="#RUS" fill="#D3FFBE"/><use href="#GEO" fill="#D3FFBE"/><use href="#ARM" fill="#D3FFBE"/><use href="#AZE" fill="#D3FFBE"/><use href="#TUR" fill="#A3FF73"/><use href="#CYP" fill="#38A800"/><use href="#SYR" fill="#38A800"/><use href="#LBN" fill="#38A800"/><use href="#ISR" fill="#D3FFBE"/><use href="#JOR" fill="#D3FFBE"/><use href="#IRQ" fill="#38A800"/><use href="#KWT" fill="#D3FFBE"/><use href="#IRN" fill="#A3FF73"/><use href="#SAU" fill="#D3FFBE"/><use href="#YEM" fill="#FFFFBE"/><use href="#OMN" fill="#38A800"/><use href="#ARE" fill="#38A800"/><use href="#QAT" fill="#D3FFBE"/><use href="#KAZ" fill="#D3FFBE"/><use href="#UZB" fill="#38A800"/><use href="#TKM" fill="#D3FFBE"/><use href="#KGZ" fill="#38A800"/><use href="#TJK" fill="#38A800"/><use href="#AFG" fill="#D3FFBE"/><use href="#PAK" fill="#38A800"/><use href="#IND" fill="#4CE600"/><use href="#NPL" fill="#4CE600"/><use href="#BTN" fill="#4CE600"/><use href="#BGD" fill="#FFFFBE"/><use href="#LKA" fill="#FF5500"/><use href="#MMR" fill="#FF5500"/><use href="#THA" fill="#FFD37F"/><use href="#LAO" fill="#FFD37F"/><use href="#VNM" fill="#38A800"/><use href="#KHM" fill="#FFD37F"/><use href="#MYS" fill="#FFFFBE"/><use href="#BRN" fill="#FFFFBE"/><use href="#IDN" fill="#FF5500"/><use href="#TLS" fill="#FF5500"/><use href="#PNG" fill="#FFFFBE"/><use href="#SLB" fill="#ffffff"/><use href="#VUT" fill="#ffffff"/><use href="#NCL" fill="#ffffff"/><use href="#FJI" fill="#ffffff"/><use href="#PHL" fill="#FFD37F"/><use href="#TWN" fill="#ffffff"/><use href="#JPN" fill="#FFFFBE"/><use href="#PRK" fill="#FF5500"/><use href="#KOR" fill="#FFFFBE"/><use href="#MNG" fill="#D3FFBE"/><use href="#CHN" fill="#A3FF73"/><use href="#AUS" fill="#38A800"/><use href="#NZL" fill="#4CE600"/><use href="#MAR" fill="#D3FFBE"/><use href="#ESH" fill="#ffffff"/><use href="#DZA" fill="#FFD37F"/><use href="#TUN" fill="#4CE600"/><use href="#LBY" fill="#FFFFBE"/><use href="#EGY" fill="#38A800"/><use href="#SDN" fill="#FFAA00"/><use href="#SSD" fill="#FFAA00"/><use href="#MRT" fill="#FF5500"/><use href="#MLI" fill="#FFFFBE"/><use href="#SEN" fill="#D3FFBE"/><use href="#GMB" fill="#D3FFBE"/><use href="#GNB" fill="#FFAA00"/><use href="#GIN" fill="#FFAA00"/><use href="#SLE" fill="#FF5500"/><use href="#LBR" fill="#FFAA00"/><use href="#CIV" fill="#FFAA00"/><use href="#GHA" fill="#FFAA00"/><use href="#TGO" fill="#FF5500"/><use href="#BEN" fill="#FFD37F"/><use href="#BFA" fill="#D3FFBE"/><use href="#NER" fill="#FFD37F"/><use href="#NGA" fill="#FFD37F"/><use href="#CMR" fill="#FFAA00"/><use href="#GNQ" fill="#FF5500"/><use href="#GAB" fill="#FF5500"/><use href="#COG" fill="#FFFFBE"/><use href="#COD" fill="#FFAA00"/><use href="#AGO" fill="#38A800"/><use href="#ZMB" fill="#FFFFBE"/><use href="#NAM" fill="#FFAA00"/><use href="#BWA" fill="#FFAA00"/><use href="#ZWE" fill="#A3FF73"/><use href="#MWI" fill="#FFFFBE"/><use href="#MOZ" fill="#FFAA00"/><use href="#ZAF" fill="#FFFFBE"/><use href="#LSO" fill="#D3FFBE"/><use href="#SWZ" fill="#FFFFBE"/><use href="#MDG" fill="#FFAA00"/><use href="#TZA" fill="#FFD37F"/><use href="#KEN" fill="#A3FF73"/><use href="#UGA" fill="#FF5500"/><use href="#RWA" fill="#38A800"/><use href="#BDI" fill="#38A800"/><use href="#ETH" fill="#FFAA00"/><use href="#ERI" fill="#FFAA00"/><use href="#DJI" fill="#FFAA00"/><use href="#SOM" fill="#FF5500"/><use href="#TCD" fill="#FFD37F"/><use href="#CAF" fill="#FFD37F"/><use href="#COM" fill="#ffffff"/><use href="#MUS" fill="#ffffff"/><use href="#REU" fill="#ffffff"/><use href="#CPV" fill="#ffffff"/><use href="#GAL" fill="#ffffff"/><use href="#FRO" fill="#ffffff"/><use href="#AZO" fill="#ffffff"/><use href="#ARCS" class="arc"/><use href="#DARKS" class="dk"/></g>
<g transform="translate(3.1,755.2)"><use href="#CAN" fill="#FFFFBE"/><use href="#USA" fill="#A3FF73"/><use href="#MEX" fill="#FFD37F"/><use href="#GTM" fill="#FF5500"/><use href="#BLZ" fill="#FFD37F"/><use href="#SLV" fill="#FF5500"/><use href="#HND" fill="#FF5500"/><use href="#NIC" fill="#FF5500"/><use href="#CRI" fill="#FFFFBE"/><use href="#PAN" fill="#FFFFBE"/><use href="#CUB" fill="#38A800"/><use href="#HTI" fill="#FFFFBE"/><use href="#DOM" fill="#38A800"/><use href="#JAM" fill="#FFFFBE"/><use href="#PRI" fill="#ffffff"/><use href="#TTO" fill="#FFFFBE"/><use href="#BHS" fill="#ffffff"/><use href="#COL" fill="#FFAA00"/><use href="#VEN" fill="#FFAA00"/><use href="#GUY" fill="#FFFFBE"/><use href="#SUR" fill="#FFFFBE"/><use href="#GUF" fill="#A3FF73"/><use href="#ECU" fill="#FF5500"/><use href="#PER" fill="#FFFFBE"/><use href="#BOL" fill="#FFD37F"/><use href="#PRY" fill="#FF5500"/><use href="#URY" fill="#38A800"/><use href="#ARG" fill="#FF5500"/><use href="#CHL" fill="#A3FF73"/><use href="#BRA" fill="#FFD37F"/><use href="#FLK" fill="#ffffff"/><use href="#GRL" fill="#A3FF73"/><use href="#ISL" fill="#38A800"/><use href="#NOR" fill="#FFFFBE"/><use href="#SWE" fill="#FFFFBE"/><use href="#FIN" fill="#FFFFBE"/><use href="#DNK" fill="#4CE600"/><use href="#GBR" fill="#38A800"/><use href="#IRL" fill="#38A800"/><use href="#FRA" fill="#4CE600"/><use href="#ESP" fill="#38A800"/><use href="#PRT" fill="#FFD37F"/><use href="#BEL" fill="#4CE600"/><use href="#NLD" fill="#4CE600"/><use href="#DEU" fill="#D3FFBE"/><use href="#CHE" fill="#4CE600"/><use href="#AUT" fill="#D3FFBE"/><use href="#ITA" fill="#38A800"/><use href="#POL" fill="#A3FF73"/><use href="#CZE" fill="#D3FFBE"/><use href="#SVK" fill="#D3FFBE"/><use href="#HUN" fill="#38A800"/><use href="#SVN" fill="#38A800"/><use href="#HRV" fill="#38A800"/><use href="#BIH" fill="#38A800"/><use href="#SRB" fill="#38A800"/><use href="#MNE" fill="#38A800"/><use href="#ALB" fill="#D3FFBE"/><use href="#MKD" fill="#38A800"/><use href="#GRC" fill="#D3FFBE"/><use href="#BGR" fill="#38A800"/><use href="#ROU" fill="#A3FF73"/><use href="#MDA" fill="#FFFFBE"/><use href="#UKR" fill="#FFFFBE"/><use href="#BLR" fill="#4CE600"/><use href="#LTU" fill="#38A800"/><use href="#LVA" fill="#38A800"/><use href="#EST" fill="#38A800"/><use href="#RUS" fill="#D3FFBE"/><use href="#GEO" fill="#ffffff"/><use href="#ARM" fill="#D3FFBE"/><use href="#AZE" fill="#D3FFBE"/><use href="#TUR" fill="#A3FF73"/><use href="#CYP" fill="#38A800"/><use href="#SYR" fill="#38A800"/><use href="#LBN" fill="#38A800"/><use href="#ISR" fill="#A3FF73"/><use href="#JOR" fill="#A3FF73"/><use href="#IRQ" fill="#A3FF73"/><use href="#KWT" fill="#A3FF73"/><use href="#IRN" fill="#38A800"/><use href="#SAU" fill="#A3FF73"/><use href="#YEM" fill="#FFFFBE"/><use href="#OMN" fill="#38A800"/><use href="#ARE" fill="#38A800"/><use href="#QAT" fill="#A3FF73"/><use href="#KAZ" fill="#FFD37F"/><use href="#UZB" fill="#38A800"/><use href="#TKM" fill="#FFFFBE"/><use href="#KGZ" fill="#4CE600"/><use href="#TJK" fill="#D3FFBE"/><use href="#AFG" fill="#D3FFBE"/><use href="#PAK" fill="#FF5500"/><use href="#IND" fill="#38A800"/><use href="#NPL" fill="#38A800"/><use href="#BTN" fill="#38A800"/><use href="#BGD" fill="#FFD37F"/><use href="#LKA" fill="#FFD37F"/><use href="#MMR" fill="#FF5500"/><use href="#THA" fill="#38A800"/><use href="#LAO" fill="#FFFFBE"/><use href="#VNM" fill="#38A800"/><use href="#KHM" fill="#FFD37F"/><use href="#MYS" fill="#FFD37F"/><use href="#BRN" fill="#FFD37F"/><use href="#IDN" fill="#FFD37F"/><use href="#TLS" fill="#FFD37F"/><use href="#PNG" fill="#FFFFBE"/><use href="#SLB" fill="#ffffff"/><use href="#VUT" fill="#ffffff"/><use href="#NCL" fill="#ffffff"/><use href="#FJI" fill="#ffffff"/><use href="#PHL" fill="#FFAA00"/><use href="#TWN" fill="#ffffff"/><use href="#JPN" fill="#ffffff"/><use href="#PRK" fill="#FFAA00"/><use href="#KOR" fill="#FFD37F"/><use href="#MNG" fill="#A3FF73"/><use href="#CHN" fill="#A3FF73"/><use href="#AUS" fill="#FFFFBE"/><use href="#NZL" fill="#FFFFBE"/><use href="#MAR" fill="#4CE600"/><use href="#ESH" fill="#ffffff"/><use href="#DZA" fill="#38A800"/><use href="#TUN" fill="#4CE600"/><use href="#LBY" fill="#FFFFBE"/><use href="#EGY" fill="#38A800"/><use href="#SDN" fill="#FFD37F"/><use href="#SSD" fill="#FF5500"/><use href="#MRT" fill="#FF5500"/><use href="#MLI" fill="#FFFFBE"/><use href="#SEN" fill="#FFFFBE"/><use href="#GMB" fill="#FFFFBE"/><use href="#GNB" fill="#FFAA00"/><use href="#GIN" fill="#FFAA00"/><use href="#SLE" fill="#FFAA00"/><use href="#LBR" fill="#FFAA00"/><use href="#CIV" fill="#FF5500"/><use href="#GHA" fill="#FF5500"/><use href="#TGO" fill="#FFFFBE"/><use href="#BEN" fill="#FF5500"/><use href="#BFA" fill="#FFFFBE"/><use href="#NER" fill="#FFAA00"/><use href="#NGA" fill="#FF5500"/><use href="#CMR" fill="#FFAA00"/><use href="#GNQ" fill="#FFFFBE"/><use href="#GAB" fill="#FFFFBE"/><use href="#COG" fill="#FFFFBE"/><use href="#COD" fill="#FFAA00"/><use href="#AGO" fill="#FF5500"/><use href="#ZMB" fill="#FFFFBE"/><use href="#NAM" fill="#FFAA00"/><use href="#BWA" fill="#FFAA00"/><use href="#ZWE" fill="#D3FFBE"/><use href="#MWI" fill="#FFFFBE"/><use href="#MOZ" fill="#FFAA00"/><use href="#ZAF" fill="#FFFFBE"/><use href="#LSO" fill="#D3FFBE"/><use href="#SWZ" fill="#FFFFBE"/><use href="#MDG" fill="#FFAA00"/><use href="#TZA" fill="#FFD37F"/><use href="#KEN" fill="#FF5500"/><use href="#UGA" fill="#FF5500"/><use href="#RWA" fill="#FFFFBE"/><use href="#BDI" fill="#FFFFBE"/><use href="#ETH" fill="#FFAA00"/><use href="#ERI" fill="#FFAA00"/><use href="#DJI" fill="#FFAA00"/><use href="#SOM" fill="#FF5500"/><use href="#TCD" fill="#FFAA00"/><use href="#CAF" fill="#FFD37F"/><use href="#COM" fill="#ffffff"/><use href="#MUS" fill="#ffffff"/><use href="#REU" fill="#ffffff"/><use href="#CPV" fill="#ffffff"/><use href="#GAL" fill="#ffffff"/><use href="#FRO" fill="#ffffff"/><use href="#AZO" fill="#ffffff"/><use href="#ARCS" class="arc"/><use href="#DARKS" class="dk"/></g>
<g transform="translate(769.8,755.2)"><use href="#CAN" fill="#FFFFBE"/><use href="#USA" fill="#D3FFBE"/><use href="#MEX" fill="#FFD37F"/><use href="#GTM" fill="#FFAA00"/><use href="#BLZ" fill="#FFD37F"/><use href="#SLV" fill="#FF5500"/><use href="#HND" fill="#FF5500"/><use href="#NIC" fill="#FF5500"/><use href="#CRI" fill="#38A800"/><use href="#PAN" fill="#FFFFBE"/><use href="#CUB" fill="#38A800"/><use href="#HTI" fill="#FFFFBE"/><use href="#DOM" fill="#38A800"/><use href="#JAM" fill="#FFFFBE"/><use href="#PRI" fill="#ffffff"/><use href="#TTO" fill="#FFFFBE"/><use href="#BHS" fill="#ffffff"/><use href="#COL" fill="#FFD37F"/><use href="#VEN" fill="#FFD37F"/><use href="#GUY" fill="#FFFFBE"/><use href="#SUR" fill="#FFFFBE"/><use href="#GUF" fill="#D3FFBE"/><use href="#ECU" fill="#FFAA00"/><use href="#PER" fill="#FFD37F"/><use href="#BOL" fill="#FFD37F"/><use href="#PRY" fill="#FF5500"/><use href="#URY" fill="#38A800"/><use href="#ARG" fill="#FFAA00"/><use href="#CHL" fill="#4CE600"/><use href="#BRA" fill="#FFD37F"/><use href="#FLK" fill="#ffffff"/><use href="#GRL" fill="#38A800"/><use href="#ISL" fill="#38A800"/><use href="#NOR" fill="#A3FF73"/><use href="#SWE" fill="#FFFFBE"/><use href="#FIN" fill="#A3FF73"/><use href="#DNK" fill="#38A800"/><use href="#GBR" fill="#38A800"/><use href="#IRL" fill="#38A800"/><use href="#FRA" fill="#A3FF73"/><use href="#ESP" fill="#A3FF73"/><use href="#PRT" fill="#A3FF73"/><use href="#BEL" fill="#FFFFBE"/><use href="#NLD" fill="#FFFFBE"/><use href="#DEU" fill="#D3FFBE"/><use href="#CHE" fill="#A3FF73"/><use href="#AUT" fill="#A3FF73"/><use href="#ITA" fill="#4CE600"/><use href="#POL" fill="#A3FF73"/><use href="#CZE" fill="#D3FFBE"/><use href="#SVK" fill="#D3FFBE"/><use href="#HUN" fill="#4CE600"/><use href="#SVN" fill="#4CE600"/><use href="#HRV" fill="#4CE600"/><use href="#BIH" fill="#4CE600"/><use href="#SRB" fill="#4CE600"/><use href="#MNE" fill="#4CE600"/><use href="#ALB" fill="#A3FF73"/><use href="#MKD" fill="#A3FF73"/><use href="#GRC" fill="#A3FF73"/><use href="#BGR" fill="#38A800"/><use href="#ROU" fill="#38A800"/><use href="#MDA" fill="#A3FF73"/><use href="#UKR" fill="#A3FF73"/><use href="#BLR" fill="#A3FF73"/><use href="#LTU" fill="#A3FF73"/><use href="#LVA" fill="#A3FF73"/><use href="#EST" fill="#4CE600"/><use href="#RUS" fill="#D3FFBE"/><use href="#GEO" fill="#38A800"/><use href="#ARM" fill="#38A800"/><use href="#AZE" fill="#38A800"/><use href="#TUR" fill="#4CE600"/><use href="#CYP" fill="#A3FF73"/><use href="#SYR" fill="#A3FF73"/><use href="#LBN" fill="#A3FF73"/><use href="#ISR" fill="#D3FFBE"/><use href="#JOR" fill="#D3FFBE"/><use href="#IRQ" fill="#D3FFBE"/><use href="#KWT" fill="#D3FFBE"/><use href="#IRN" fill="#D3FFBE"/><use href="#SAU" fill="#D3FFBE"/><use href="#YEM" fill="#FFFFBE"/><use href="#OMN" fill="#FFFFBE"/><use href="#ARE" fill="#D3FFBE"/><use href="#QAT" fill="#D3FFBE"/><use href="#KAZ" fill="#38A800"/><use href="#UZB" fill="#38A800"/><use href="#TKM" fill="#FFFFBE"/><use href="#KGZ" fill="#38A800"/><use href="#TJK" fill="#D3FFBE"/><use href="#AFG" fill="#D3FFBE"/><use href="#PAK" fill="#FFAA00"/><use href="#IND" fill="#38A800"/><use href="#NPL" fill="#38A800"/><use href="#BTN" fill="#38A800"/><use href="#BGD" fill="#D3FFBE"/><use href="#LKA" fill="#D3FFBE"/><use href="#MMR" fill="#FF5500"/><use href="#THA" fill="#FFFFBE"/><use href="#LAO" fill="#FFFFBE"/><use href="#VNM" fill="#38A800"/><use href="#KHM" fill="#FF5500"/><use href="#MYS" fill="#FFFFBE"/><use href="#BRN" fill="#FFFFBE"/><use href="#IDN" fill="#FF5500"/><use href="#TLS" fill="#FF5500"/><use href="#PNG" fill="#FFFFBE"/><use href="#SLB" fill="#ffffff"/><use href="#VUT" fill="#ffffff"/><use href="#NCL" fill="#ffffff"/><use href="#FJI" fill="#ffffff"/><use href="#PHL" fill="#FFFFBE"/><use href="#TWN" fill="#ffffff"/><use href="#JPN" fill="#FFFFBE"/><use href="#PRK" fill="#FFD37F"/><use href="#KOR" fill="#FFD37F"/><use href="#MNG" fill="#D3FFBE"/><use href="#CHN" fill="#A3FF73"/><use href="#AUS" fill="#38A800"/><use href="#NZL" fill="#D3FFBE"/><use href="#MAR" fill="#D3FFBE"/><use href="#ESH" fill="#D3FFBE"/><use href="#DZA" fill="#D3FFBE"/><use href="#TUN" fill="#A3FF73"/><use href="#LBY" fill="#FFFFBE"/><use href="#EGY" fill="#FF5500"/><use href="#SDN" fill="#FFAA00"/><use href="#SSD" fill="#FFFFBE"/><use href="#MRT" fill="#FF5500"/><use href="#MLI" fill="#FFFFBE"/><use href="#SEN" fill="#FFD37F"/><use href="#GMB" fill="#FFD37F"/><use href="#GNB" fill="#FF5500"/><use href="#GIN" fill="#FF5500"/><use href="#SLE" fill="#FF5500"/><use href="#LBR" fill="#FFAA00"/><use href="#CIV" fill="#FF5500"/><use href="#GHA" fill="#D3FFBE"/><use href="#TGO" fill="#FFD37F"/><use href="#BEN" fill="#FF5500"/><use href="#BFA" fill="#FFAA00"/><use href="#NER" fill="#FF5500"/><use href="#NGA" fill="#FFAA00"/><use href="#CMR" fill="#FFD37F"/><use href="#GNQ" fill="#FFFFBE"/><use href="#GAB" fill="#FFFFBE"/><use href="#COG" fill="#FFFFBE"/><use href="#COD" fill="#FF5500"/><use href="#AGO" fill="#FF5500"/><use href="#ZMB" fill="#FFD37F"/><use href="#NAM" fill="#FFAA00"/><use href="#BWA" fill="#FFAA00"/><use href="#ZWE" fill="#FFFFBE"/><use href="#MWI" fill="#A3FF73"/><use href="#MOZ" fill="#FFAA00"/><use href="#ZAF" fill="#FFD37F"/><use href="#LSO" fill="#D3FFBE"/><use href="#SWZ" fill="#FFD37F"/><use href="#MDG" fill="#FFFFBE"/><use href="#TZA" fill="#FFD37F"/><use href="#KEN" fill="#D3FFBE"/><use href="#UGA" fill="#FF5500"/><use href="#RWA" fill="#FFFFBE"/><use href="#BDI" fill="#FFFFBE"/><use href="#ETH" fill="#FFAA00"/><use href="#ERI" fill="#FFD37F"/><use href="#DJI" fill="#FFAA00"/><use href="#SOM" fill="#FF5500"/><use href="#TCD" fill="#FFAA00"/><use href="#CAF" fill="#FFD37F"/><use href="#COM" fill="#ffffff"/><use href="#MUS" fill="#ffffff"/><use href="#REU" fill="#ffffff"/><use href="#CPV" fill="#ffffff"/><use href="#GAL" fill="#ffffff"/><use href="#FRO" fill="#ffffff"/><use href="#AZO" fill="#ffffff"/><use href="#ARCS" class="arc"/><use href="#DARKS" class="dk"/></g>
</g>
<rect x="322.2" y="909" width="2" height="1034" fill="#c2c2c2"/>
<rect x="555.2" y="909" width="2" height="1034" fill="#c2c2c2"/>
<rect x="786.8" y="909" width="2" height="1034" fill="#c2c2c2"/>
<rect x="1019.9" y="909" width="2" height="1034" fill="#c2c2c2"/>
<rect x="1250.3" y="909" width="2" height="1034" fill="#c2c2c2"/>
<path fill="#C55A11" d="M119.5,1235h19.4V1090.2h-19.4zM158.7,1235h19.4V1139.5h-19.4zM197.9,1235h19.4V1158.4h-19.4zM237.1,1235h19.4V1191.8h-19.4zM276.3,1235h19.4V1153.9h-19.4zM350.9,1235h19.4V1066.6h-19.4zM390.1,1235h19.4V1125.9h-19.4zM429.3,1235h19.4V1134.6h-19.4zM468.5,1235h19.4V1204.5h-19.4zM507.7,1235h19.4V1144.5h-19.4zM582.5,1235h19.4V1042.6h-19.4zM621.7,1235h19.4V1095.9h-19.4zM660.9,1235h19.4V1120.2h-19.4zM700.1,1235h19.4V1180.4h-19.4zM739.3,1235h19.4V1121.7h-19.4zM814.9,1235h19.4V1042.6h-19.4zM854.1,1235h19.4V1116h-19.4zM893.3,1235h19.4V1139.5h-19.4zM932.5,1235h19.4V1188.5h-19.4zM971.7,1235h19.4V1134.1h-19.4zM1046.4,1235h19.4V1018.7h-19.4zM1085.6,1235h19.4V1091.2h-19.4zM1124.8,1235h19.4V1144.5h-19.4zM1164,1235h19.4V1185.2h-19.4zM1203.2,1235h19.4V1124.4h-19.4zM1277.5,1235h19.4V1018.7h-19.4zM1316.7,1235h19.4V1120.4h-19.4zM1355.9,1235h19.4V1158.9h-19.4zM1395.1,1235h19.4V1188.9h-19.4zM1434.3,1235h19.4V1136.3h-19.4z"/>
<path fill="#D0CECE" d="M119.5,1090.2h19.4V1082.5h-19.4zM158.7,1139.5h19.4V1100.6h-19.4zM197.9,1158.4h19.4V1105.8h-19.4zM237.1,1191.8h19.4V1133.6h-19.4zM276.3,1153.9h19.4V1109.8h-19.4zM350.9,1066.6h19.4V1058.9h-19.4zM390.1,1125.9h19.4V1086.4h-19.4zM429.3,1134.6h19.4V1086.9h-19.4zM468.5,1204.5h19.4V1142h-19.4zM507.7,1144.5h19.4V1099.8h-19.4zM621.7,1095.9h19.4V1060.9h-19.4zM660.9,1120.2h19.4V1067.8h-19.4zM700.1,1180.4h19.4V1130.3h-19.4zM739.3,1121.7h19.4V1082.5h-19.4zM854.1,1116h19.4V1076h-19.4zM893.3,1139.5h19.4V1096.4h-19.4zM932.5,1188.5h19.4V1134.3h-19.4zM971.7,1134.1h19.4V1095.1h-19.4zM1085.6,1091.2h19.4V1061.6h-19.4zM1124.8,1144.5h19.4V1087.4h-19.4zM1164,1185.2h19.4V1130.8h-19.4zM1203.2,1124.4h19.4V1084.2h-19.4zM1316.7,1120.4h19.4V1081.5h-19.4zM1355.9,1158.9h19.4V1101.1h-19.4zM1395.1,1188.9h19.4V1122.7h-19.4zM1434.3,1136.3h19.4V1090.2h-19.4z"/>
<path fill="#548235" d="M119.5,1082.5h19.4V987h-19.4zM158.7,1100.6h19.4V987h-19.4zM197.9,1105.8h19.4V987h-19.4zM237.1,1133.6h19.4V987h-19.4zM276.3,1109.8h19.4V987h-19.4zM350.9,1058.9h19.4V987h-19.4zM390.1,1086.4h19.4V987h-19.4zM429.3,1086.9h19.4V987h-19.4zM468.5,1142h19.4V987h-19.4zM507.7,1099.8h19.4V987h-19.4zM582.5,1042.6h19.4V987h-19.4zM621.7,1060.9h19.4V987h-19.4zM660.9,1067.8h19.4V987h-19.4zM700.1,1130.3h19.4V987h-19.4zM739.3,1082.5h19.4V987h-19.4zM814.9,1042.6h19.4V987h-19.4zM854.1,1076h19.4V987h-19.4zM893.3,1096.4h19.4V987h-19.4zM932.5,1134.3h19.4V987h-19.4zM971.7,1095.1h19.4V987h-19.4zM1046.4,1018.7h19.4V987h-19.4zM1085.6,1061.6h19.4V987h-19.4zM1124.8,1087.4h19.4V987h-19.4zM1164,1130.8h19.4V987h-19.4zM1203.2,1084.2h19.4V987h-19.4zM1277.5,1018.7h19.4V987h-19.4zM1316.7,1081.5h19.4V987h-19.4zM1355.9,1101.1h19.4V987h-19.4zM1395.1,1122.7h19.4V987h-19.4zM1434.3,1090.2h19.4V987h-19.4z"/>
<path fill="#92D050" d="M197.9,1484h19.4V1476.2h-19.4zM237.1,1484h19.4V1397h-19.4zM276.3,1484h19.4V1434.6h-19.4zM468.5,1484h19.4V1371.7h-19.4zM700.1,1484h19.4V1318.6h-19.4zM893.3,1484h19.4V1480.3h-19.4zM932.5,1484h19.4V1356.3h-19.4zM1164,1484h19.4V1414.9h-19.4zM1395.1,1484h19.4V1427.2h-19.4z"/>
<path fill="#BF9000" d="M119.5,1484h19.4V1493.3h-19.4zM158.7,1484h19.4V1518.6h-19.4zM350.9,1484h19.4V1532.1h-19.4zM390.1,1484h19.4V1530.3h-19.4zM429.3,1484h19.4V1555.6h-19.4zM507.7,1484h19.4V1538.9h-19.4zM582.5,1484h19.4V1527.8h-19.4zM621.7,1484h19.4V1559.9h-19.4zM660.9,1484h19.4V1558h-19.4zM739.3,1484h19.4V1513.6h-19.4zM814.9,1484h19.4V1571.6h-19.4zM854.1,1484h19.4V1618.5h-19.4zM971.7,1484h19.4V1575.9h-19.4zM1046.4,1484h19.4V1581.2h-19.4zM1085.6,1484h19.4V1510.5h-19.4zM1124.8,1484h19.4V1584h-19.4zM1203.2,1484h19.4V1640.1h-19.4zM1277.5,1484h19.4V1600h-19.4zM1316.7,1484h19.4V1540.8h-19.4zM1355.9,1484h19.4V1585.8h-19.4zM1434.3,1484h19.4V1703.7h-19.4z"/>
<path fill="none" stroke="#000" stroke-width="3" d="M109.6,985.8V1236.5M109.6,1297.7V1732M109.6,1235H306.8M109.6,1484H306.8M339.5,1235H538.2M339.5,1484H538.2M571.1,1235H769.8M571.1,1484H769.8M803.5,1235H1002.2M803.5,1484H1002.2M1035,1235H1233.7M1035,1484H1233.7M1266.1,1235H1464.8M1266.1,1484H1464.8"/>
<path fill="none" stroke="#000" stroke-width="2.5" d="M148.8,1235v7.5M148.8,1484v7.5M188,1235v7.5M188,1484v7.5M227.2,1235v7.5M227.2,1484v7.5M266.4,1235v7.5M266.4,1484v7.5M305.6,1235v7.5M305.6,1484v7.5M341,1235v7.5M341,1484v7.5M380.2,1235v7.5M380.2,1484v7.5M419.4,1235v7.5M419.4,1484v7.5M458.6,1235v7.5M458.6,1484v7.5M497.8,1235v7.5M497.8,1484v7.5M537,1235v7.5M537,1484v7.5M572.6,1235v7.5M572.6,1484v7.5M611.8,1235v7.5M611.8,1484v7.5M651,1235v7.5M651,1484v7.5M690.2,1235v7.5M690.2,1484v7.5M729.4,1235v7.5M729.4,1484v7.5M768.6,1235v7.5M768.6,1484v7.5M805,1235v7.5M805,1484v7.5M844.2,1235v7.5M844.2,1484v7.5M883.4,1235v7.5M883.4,1484v7.5M922.6,1235v7.5M922.6,1484v7.5M961.8,1235v7.5M961.8,1484v7.5M1001,1235v7.5M1001,1484v7.5M1036.5,1235v7.5M1036.5,1484v7.5M1075.7,1235v7.5M1075.7,1484v7.5M1114.9,1235v7.5M1114.9,1484v7.5M1154.1,1235v7.5M1154.1,1484v7.5M1193.3,1235v7.5M1193.3,1484v7.5M1232.5,1235v7.5M1232.5,1484v7.5M1267.6,1235v7.5M1267.6,1484v7.5M1306.8,1235v7.5M1306.8,1484v7.5M1346,1235v7.5M1346,1484v7.5M1385.2,1235v7.5M1385.2,1484v7.5M1424.4,1235v7.5M1424.4,1484v7.5M1463.6,1235v7.5M1463.6,1484v7.5M109.6,1235H101.3M109.6,1185.4H101.3M109.6,1135.8H101.3M109.6,1086.2H101.3M109.6,1036.6H101.3M109.6,987H101.3M109.6,1730.8H101.3M109.6,1669.1H101.3M109.6,1607.4H101.3M109.6,1545.7H101.3M109.6,1484H101.3M109.6,1422.3H101.3M109.6,1360.6H101.3M109.6,1298.9H101.3"/>
<g font-size="25.2" text-anchor="end">
<text x="87.8" y="1243.2">0</text>
<text x="87.8" y="1193.6">20</text>
<text x="87.8" y="1144">40</text>
<text x="87.8" y="1094.4">60</text>
<text x="87.8" y="1044.8">80</text>
<text x="87.8" y="995.2">100</text>
<text x="87.8" y="1739">-40</text>
<text x="87.8" y="1677.3">-30</text>
<text x="87.8" y="1615.6">-20</text>
<text x="87.8" y="1553.9">-10</text>
<text x="87.8" y="1492.2">0</text>
<text x="87.8" y="1430.5">10</text>
<text x="87.8" y="1368.8">20</text>
<text x="87.8" y="1307.1">30</text>
</g>
<g font-size="25" text-anchor="middle">
<text x="207.6" y="948.5">1960–1970</text>
<text x="439" y="948.5">1970–1980</text>
<text x="670.6" y="948.5">1980–1990</text>
<text x="903" y="948.5">1990–2000</text>
<text x="1134.5" y="948.5">2000–2010</text>
<text x="1365.6" y="948.5">2010–2019</text>
</g>
<g font-size="25.1" text-anchor="end">
<text transform="translate(138,1746.5) rotate(-90)">Low</text>
<text transform="translate(177.2,1746.5) rotate(-90)">Lower middle</text>
<text transform="translate(216.4,1746.5) rotate(-90)">Upper middle</text>
<text transform="translate(255.6,1746.5) rotate(-90)">High</text>
<text transform="translate(294.8,1746.5) rotate(-90)">Combined</text>
<text transform="translate(369.4,1746.5) rotate(-90)">Low</text>
<text transform="translate(408.6,1746.5) rotate(-90)">Lower middle</text>
<text transform="translate(447.8,1746.5) rotate(-90)">Upper middle</text>
<text transform="translate(487,1746.5) rotate(-90)">High</text>
<text transform="translate(526.2,1746.5) rotate(-90)">Combined</text>
<text transform="translate(601,1746.5) rotate(-90)">Low</text>
<text transform="translate(640.2,1746.5) rotate(-90)">Lower middle</text>
<text transform="translate(679.4,1746.5) rotate(-90)">Upper middle</text>
<text transform="translate(718.6,1746.5) rotate(-90)">High</text>
<text transform="translate(757.8,1746.5) rotate(-90)">Combined</text>
<text transform="translate(833.4,1746.5) rotate(-90)">Low</text>
<text transform="translate(872.6,1746.5) rotate(-90)">Lower middle</text>
<text transform="translate(911.8,1746.5) rotate(-90)">Upper middle</text>
<text transform="translate(951,1746.5) rotate(-90)">High</text>
<text transform="translate(990.2,1746.5) rotate(-90)">Combined</text>
<text transform="translate(1064.9,1746.5) rotate(-90)">Low</text>
<text transform="translate(1104.1,1746.5) rotate(-90)">Lower middle</text>
<text transform="translate(1143.3,1746.5) rotate(-90)">Upper middle</text>
<text transform="translate(1182.5,1746.5) rotate(-90)">High</text>
<text transform="translate(1221.7,1746.5) rotate(-90)">Combined</text>
<text transform="translate(1296,1746.5) rotate(-90)">Low</text>
<text transform="translate(1335.2,1746.5) rotate(-90)">Lower middle</text>
<text transform="translate(1374.4,1746.5) rotate(-90)">Upper middle</text>
<text transform="translate(1413.6,1746.5) rotate(-90)">High</text>
<text transform="translate(1452.8,1746.5) rotate(-90)">Combined</text>
</g>
<g font-size="26.8" text-anchor="middle">
<text transform="translate(29.6,1104) rotate(-90)">Countries (%)</text>
<text transform="translate(30,1516.8) rotate(-90)" font-size="27">Forest net change (Mha)</text>
<text x="788.7" y="1981">WB regions</text>
</g>
<rect x="1513" y="1099" width="26" height="25.6" fill="#548235"/><rect x="1513" y="1149.3" width="26" height="25.6" fill="#D0CECE"/><rect x="1513" y="1199.7" width="26" height="25.6" fill="#C55A11"/>
<rect x="1513" y="1445.5" width="26" height="25.8" fill="#92D050"/><rect x="1513" y="1495.3" width="26" height="25.6" fill="#BF9000"/>
<g font-size="25.2">
<text x="1561.2" y="1119.8">With net gain</text><text x="1560.2" y="1170.5">No change</text><text x="1561.2" y="1220.6">With net loss</text>
<text x="1560.2" y="1466.9">Net forest gain</text><text x="1560.2" y="1517">Net forest loss</text>
</g>
<g font-size="47" font-weight="bold"><text x="38.7" y="132.2">a</text><text x="37.4" y="932.6">b</text></g>
<g font-size="24.8">
<text x="23.6" y="198.8">1960–1970</text>
<text x="790.3" y="198.8">1970–1980</text>
<text x="23.6" y="498.4">1980–1990</text>
<text x="790.3" y="498.4">1990–2000</text>
<text x="23.6" y="788.3">2000–2010</text>
<text x="790.3" y="788.3">2010–2019</text>
</g>
<g font-size="25.2"><text x="1545" y="495.8">Rate of</text><text x="1545" y="525.7">change (%)</text></g>
<g font-size="22.6">
<rect x="1544.7" y="554.9" width="35.6" height="17.6" fill="#38A800" stroke="#6e6e6e" stroke-width="1"/>
<text x="1592.3" y="572.6">&gt; 5</text>
<rect x="1544.7" y="593.3" width="35.6" height="17.6" fill="#4CE600" stroke="#6e6e6e" stroke-width="1"/>
<text x="1592.3" y="611">3 – 5</text>
<rect x="1544.7" y="631.7" width="35.6" height="17.6" fill="#A3FF73" stroke="#6e6e6e" stroke-width="1"/>
<text x="1592.3" y="649.4">1 – 3</text>
<rect x="1544.7" y="670.1" width="35.6" height="17.6" fill="#D3FFBE" stroke="#6e6e6e" stroke-width="1"/>
<text x="1592.3" y="687.8">0 – 1</text>
<rect x="1544.7" y="708.5" width="35.6" height="17.6" fill="#FFFFBE" stroke="#6e6e6e" stroke-width="1"/>
<text x="1592.3" y="726.2">-1 – 0</text>
<rect x="1544.7" y="746.9" width="35.6" height="17.6" fill="#FFD37F" stroke="#6e6e6e" stroke-width="1"/>
<text x="1592.3" y="764.6">-3 – -1</text>
<rect x="1544.7" y="785.3" width="35.6" height="17.6" fill="#FFAA00" stroke="#6e6e6e" stroke-width="1"/>
<text x="1592.3" y="803">-5 – -3</text>
<rect x="1544.7" y="823.7" width="35.6" height="17.6" fill="#FF5500" stroke="#6e6e6e" stroke-width="1"/>
<text x="1592.3" y="841.4">≤ -5</text>
</g>
</svg>
</body></html>
